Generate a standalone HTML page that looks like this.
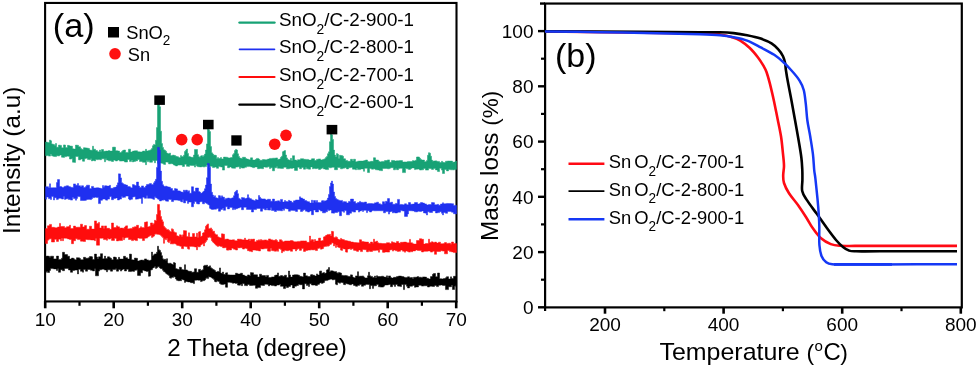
<!DOCTYPE html><html><head><meta charset="utf-8"><style>html,body{margin:0;padding:0;background:#fff;}svg{display:block;will-change:transform;}</style></head><body><svg width="980" height="369" viewBox="0 0 980 369"><rect x="45.1" y="2.95" width="411.4" height="298.5" fill="none" stroke="#000" stroke-width="2.1"/>
<line x1="45.2" y1="301" x2="45.2" y2="308.3" stroke="#000" stroke-width="2.6"/>
<line x1="113.7" y1="301" x2="113.7" y2="308.3" stroke="#000" stroke-width="2.6"/>
<line x1="182.2" y1="301" x2="182.2" y2="308.3" stroke="#000" stroke-width="2.6"/>
<line x1="250.7" y1="301" x2="250.7" y2="308.3" stroke="#000" stroke-width="2.6"/>
<line x1="319.2" y1="301" x2="319.2" y2="308.3" stroke="#000" stroke-width="2.6"/>
<line x1="387.7" y1="301" x2="387.7" y2="308.3" stroke="#000" stroke-width="2.6"/>
<line x1="456.2" y1="301" x2="456.2" y2="308.3" stroke="#000" stroke-width="2.6"/>
<line x1="79.5" y1="301" x2="79.5" y2="305.8" stroke="#000" stroke-width="2.2"/>
<line x1="147.9" y1="301" x2="147.9" y2="305.8" stroke="#000" stroke-width="2.2"/>
<line x1="216.4" y1="301" x2="216.4" y2="305.8" stroke="#000" stroke-width="2.2"/>
<line x1="284.9" y1="301" x2="284.9" y2="305.8" stroke="#000" stroke-width="2.2"/>
<line x1="353.4" y1="301" x2="353.4" y2="305.8" stroke="#000" stroke-width="2.2"/>
<line x1="421.9" y1="301" x2="421.9" y2="305.8" stroke="#000" stroke-width="2.2"/>
<text x="45.2" y="326" font-family="Liberation Sans, sans-serif" font-size="19" text-anchor="middle">10</text>
<text x="113.7" y="326" font-family="Liberation Sans, sans-serif" font-size="19" text-anchor="middle">20</text>
<text x="182.2" y="326" font-family="Liberation Sans, sans-serif" font-size="19" text-anchor="middle">30</text>
<text x="250.7" y="326" font-family="Liberation Sans, sans-serif" font-size="19" text-anchor="middle">40</text>
<text x="319.2" y="326" font-family="Liberation Sans, sans-serif" font-size="19" text-anchor="middle">50</text>
<text x="387.7" y="326" font-family="Liberation Sans, sans-serif" font-size="19" text-anchor="middle">60</text>
<text x="456.2" y="326" font-family="Liberation Sans, sans-serif" font-size="19" text-anchor="middle">70</text>
<text x="257" y="356.2" font-family="Liberation Sans, sans-serif" font-size="24.2" text-anchor="middle">2 Theta (degree)</text>
<text transform="translate(19.5,160.3) rotate(-90)" x="0" y="0" font-family="Liberation Sans, sans-serif" font-size="24.3" text-anchor="middle">Intensity (a.u)</text>
<polygon points="45.5,256.3 46.5,256.3 46.5,256.1 47.5,256.1 47.5,256.1 48.5,256.1 48.5,256.3 49.5,256.3 49.5,257.5 50.5,257.5 50.5,256.2 51.5,256.2 51.5,256.2 52.5,256.2 52.5,256.2 53.5,256.2 53.5,258.9 54.5,258.9 54.5,258.9 55.5,258.9 55.5,258.9 56.5,258.9 56.5,256.1 57.5,256.1 57.5,256.1 58.5,256.1 58.5,259.4 59.5,259.4 59.5,259.4 60.5,259.4 60.5,259.4 61.5,259.4 61.5,258.2 62.5,258.2 62.5,252.3 63.5,252.3 63.5,252.3 64.5,252.3 64.5,254.6 65.5,254.6 65.5,254.6 66.5,254.6 66.5,254.6 67.5,254.6 67.5,256.2 68.5,256.2 68.5,256.2 69.5,256.2 69.5,259.0 70.5,259.0 70.5,259.1 71.5,259.1 71.5,258.1 72.5,258.1 72.5,258.1 73.5,258.1 73.5,258.8 74.5,258.8 74.5,259.7 75.5,259.7 75.5,259.7 76.5,259.7 76.5,257.7 77.5,257.7 77.5,257.8 78.5,257.8 78.5,257.8 79.5,257.8 79.5,258.5 80.5,258.5 80.5,259.7 81.5,259.7 81.5,259.7 82.5,259.7 82.5,259.7 83.5,259.7 83.5,257.3 84.5,257.3 84.5,257.3 85.5,257.3 85.5,258.2 86.5,258.2 86.5,258.2 87.5,258.2 87.5,258.2 88.5,258.2 88.5,257.7 89.5,257.7 89.5,256.5 90.5,256.5 90.5,256.5 91.5,256.5 91.5,256.8 92.5,256.8 92.5,259.5 93.5,259.5 93.5,259.5 94.5,259.5 94.5,254.1 95.5,254.1 95.5,254.1 96.5,254.1 96.5,257.0 97.5,257.0 97.5,258.7 98.5,258.7 98.5,256.8 99.5,256.8 99.5,256.8 100.5,256.8 100.5,253.7 101.5,253.7 101.5,253.7 102.5,253.7 102.5,258.8 103.5,258.8 103.5,258.8 104.5,258.8 104.5,256.1 105.5,256.1 105.5,258.5 106.5,258.5 106.5,258.5 107.5,258.5 107.5,256.8 108.5,256.8 108.5,256.8 109.5,256.8 109.5,257.7 110.5,257.7 110.5,258.3 111.5,258.3 111.5,259.8 112.5,259.8 112.5,259.8 113.5,259.8 113.5,257.0 114.5,257.0 114.5,257.0 115.5,257.0 115.5,257.6 116.5,257.6 116.5,259.5 117.5,259.5 117.5,259.5 118.5,259.5 118.5,257.3 119.5,257.3 119.5,259.0 120.5,259.0 120.5,259.1 121.5,259.1 121.5,259.1 122.5,259.1 122.5,259.1 123.5,259.1 123.5,256.3 124.5,256.3 124.5,256.3 125.5,256.3 125.5,257.7 126.5,257.7 126.5,257.7 127.5,257.7 127.5,259.0 128.5,259.0 128.5,259.0 129.5,259.0 129.5,254.0 130.5,254.0 130.5,254.2 131.5,254.2 131.5,259.7 132.5,259.7 132.5,259.9 133.5,259.9 133.5,260.0 134.5,260.0 134.5,258.0 135.5,258.0 135.5,258.2 136.5,258.2 136.5,258.3 137.5,258.3 137.5,260.9 138.5,260.9 138.5,261.1 139.5,261.1 139.5,260.5 140.5,260.5 140.5,260.1 141.5,260.1 141.5,260.1 142.5,260.1 142.5,260.2 143.5,260.2 143.5,260.3 144.5,260.3 144.5,258.9 145.5,258.9 145.5,258.9 146.5,258.9 146.5,260.1 147.5,260.1 147.5,259.9 148.5,259.9 148.5,260.7 149.5,260.7 149.5,260.4 150.5,260.4 150.5,260.0 151.5,260.0 151.5,252.1 152.5,252.1 152.5,256.0 153.5,256.0 153.5,254.8 154.5,254.8 154.5,253.9 155.5,253.9 155.5,253.9 156.5,253.9 156.5,252.2 157.5,252.2 157.5,246.2 158.5,246.2 158.5,249.7 159.5,249.7 159.5,250.4 160.5,250.4 160.5,252.6 161.5,252.6 161.5,255.7 162.5,255.7 162.5,258.8 163.5,258.8 163.5,260.1 164.5,260.1 164.5,259.1 165.5,259.1 165.5,260.2 166.5,260.2 166.5,258.7 167.5,258.7 167.5,263.1 168.5,263.1 168.5,263.9 169.5,263.9 169.5,263.0 170.5,263.0 170.5,263.7 171.5,263.7 171.5,264.1 172.5,264.1 172.5,264.7 173.5,264.7 173.5,262.5 174.5,262.5 174.5,263.0 175.5,263.0 175.5,268.6 176.5,268.6 176.5,268.9 177.5,268.9 177.5,269.2 178.5,269.2 178.5,269.5 179.5,269.5 179.5,267.1 180.5,267.1 180.5,267.4 181.5,267.4 181.5,269.4 182.5,269.4 182.5,269.7 183.5,269.7 183.5,270.0 184.5,270.0 184.5,264.7 185.5,264.7 185.5,269.9 186.5,269.9 186.5,270.0 187.5,270.0 187.5,270.9 188.5,270.9 188.5,271.2 189.5,271.2 189.5,271.3 190.5,271.3 190.5,271.3 191.5,271.3 191.5,272.2 192.5,272.2 192.5,272.2 193.5,272.2 193.5,271.9 194.5,271.9 194.5,268.7 195.5,268.7 195.5,268.7 196.5,268.7 196.5,272.3 197.5,272.3 197.5,272.2 198.5,272.2 198.5,269.5 199.5,269.5 199.5,269.3 200.5,269.3 200.5,270.7 201.5,270.7 201.5,270.2 202.5,270.2 202.5,269.7 203.5,269.7 203.5,265.9 204.5,265.9 204.5,265.2 205.5,265.2 205.5,265.7 206.5,265.7 206.5,265.0 207.5,265.0 207.5,266.7 208.5,266.7 208.5,266.6 209.5,266.6 209.5,265.8 210.5,265.8 210.5,267.7 211.5,267.7 211.5,268.5 212.5,268.5 212.5,269.3 213.5,269.3 213.5,269.8 214.5,269.8 214.5,270.6 215.5,270.6 215.5,271.9 216.5,271.9 216.5,271.9 217.5,271.9 217.5,271.3 218.5,271.3 218.5,271.7 219.5,271.7 219.5,267.9 220.5,267.9 220.5,273.1 221.5,273.1 221.5,273.4 222.5,273.4 222.5,272.0 223.5,272.0 223.5,274.3 224.5,274.3 224.5,274.5 225.5,274.5 225.5,272.9 226.5,272.9 226.5,272.7 227.5,272.7 227.5,274.8 228.5,274.8 228.5,274.9 229.5,274.9 229.5,275.0 230.5,275.0 230.5,275.0 231.5,275.0 231.5,275.0 232.5,275.0 232.5,275.1 233.5,275.1 233.5,275.0 234.5,275.0 234.5,275.0 235.5,275.0 235.5,273.2 236.5,273.2 236.5,273.3 237.5,273.3 237.5,273.9 238.5,273.9 238.5,273.9 239.5,273.9 239.5,273.9 240.5,273.9 240.5,273.2 241.5,273.2 241.5,273.3 242.5,273.3 242.5,275.0 243.5,275.0 243.5,275.1 244.5,275.1 244.5,275.9 245.5,275.9 245.5,276.1 246.5,276.1 246.5,276.2 247.5,276.2 247.5,274.9 248.5,274.9 248.5,275.0 249.5,275.0 249.5,276.0 250.5,276.0 250.5,272.6 251.5,272.6 251.5,272.7 252.5,272.7 252.5,272.8 253.5,272.8 253.5,274.7 254.5,274.7 254.5,274.8 255.5,274.8 255.5,274.8 256.5,274.8 256.5,274.8 257.5,274.8 257.5,277.0 258.5,277.0 258.5,277.0 259.5,277.0 259.5,274.2 260.5,274.2 260.5,274.2 261.5,274.2 261.5,275.6 262.5,275.6 262.5,275.6 263.5,275.6 263.5,275.6 264.5,275.6 264.5,275.6 265.5,275.6 265.5,276.9 266.5,276.9 266.5,275.4 267.5,275.4 267.5,275.4 268.5,275.4 268.5,277.5 269.5,277.5 269.5,277.5 270.5,277.5 270.5,277.5 271.5,277.5 271.5,276.9 272.5,276.9 272.5,276.9 273.5,276.9 273.5,276.9 274.5,276.9 274.5,275.5 275.5,275.5 275.5,275.1 276.5,275.1 276.5,275.1 277.5,275.1 277.5,272.9 278.5,272.9 278.5,276.2 279.5,276.2 279.5,276.3 280.5,276.3 280.5,275.6 281.5,275.6 281.5,275.6 282.5,275.6 282.5,276.2 283.5,276.2 283.5,276.2 284.5,276.2 284.5,275.2 285.5,275.2 285.5,275.2 286.5,275.2 286.5,277.6 287.5,277.6 287.5,277.6 288.5,277.6 288.5,271.0 289.5,271.0 289.5,274.9 290.5,274.9 290.5,277.1 291.5,277.1 291.5,277.1 292.5,277.1 292.5,275.0 293.5,275.0 293.5,275.0 294.5,275.0 294.5,274.7 295.5,274.7 295.5,274.7 296.5,274.7 296.5,274.7 297.5,274.7 297.5,274.9 298.5,274.9 298.5,275.2 299.5,275.2 299.5,276.3 300.5,276.3 300.5,276.3 301.5,276.3 301.5,276.8 302.5,276.8 302.5,276.7 303.5,276.7 303.5,273.1 304.5,273.1 304.5,273.1 305.5,273.1 305.5,275.8 306.5,275.8 306.5,275.8 307.5,275.8 307.5,276.6 308.5,276.6 308.5,276.5 309.5,276.5 309.5,276.5 310.5,276.5 310.5,274.8 311.5,274.8 311.5,274.6 312.5,274.6 312.5,275.2 313.5,275.2 313.5,275.1 314.5,275.1 314.5,276.0 315.5,276.0 315.5,275.9 316.5,275.9 316.5,273.9 317.5,273.9 317.5,275.1 318.5,275.1 318.5,274.9 319.5,274.9 319.5,271.2 320.5,271.2 320.5,270.9 321.5,270.9 321.5,273.2 322.5,273.2 322.5,272.9 323.5,272.9 323.5,272.5 324.5,272.5 324.5,273.5 325.5,273.5 325.5,273.0 326.5,273.0 326.5,269.9 327.5,269.9 327.5,269.4 328.5,269.4 328.5,267.5 329.5,267.5 329.5,272.0 330.5,272.0 330.5,270.8 331.5,270.8 331.5,270.8 332.5,270.8 332.5,271.0 333.5,271.0 333.5,271.4 334.5,271.4 334.5,271.9 335.5,271.9 335.5,271.5 336.5,271.5 336.5,272.7 337.5,272.7 337.5,273.2 338.5,273.2 338.5,272.4 339.5,272.4 339.5,272.8 340.5,272.8 340.5,273.1 341.5,273.1 341.5,275.2 342.5,275.2 342.5,275.4 343.5,275.4 343.5,275.7 344.5,275.7 344.5,275.4 345.5,275.4 345.5,275.5 346.5,275.5 346.5,275.7 347.5,275.7 347.5,276.2 348.5,276.2 348.5,276.4 349.5,276.4 349.5,276.5 350.5,276.5 350.5,274.8 351.5,274.8 351.5,274.9 352.5,274.9 352.5,277.1 353.5,277.1 353.5,277.7 354.5,277.7 354.5,277.7 355.5,277.7 355.5,275.9 356.5,275.9 356.5,275.9 357.5,275.9 357.5,271.7 358.5,271.7 358.5,276.2 359.5,276.2 359.5,276.2 360.5,276.2 360.5,276.1 361.5,276.1 361.5,276.2 362.5,276.2 362.5,275.9 363.5,275.9 363.5,276.9 364.5,276.9 364.5,277.9 365.5,277.9 365.5,277.9 366.5,277.9 366.5,277.9 367.5,277.9 367.5,275.8 368.5,275.8 368.5,272.2 369.5,272.2 369.5,275.7 370.5,275.7 370.5,276.4 371.5,276.4 371.5,276.4 372.5,276.4 372.5,277.4 373.5,277.4 373.5,277.5 374.5,277.5 374.5,276.0 375.5,276.0 375.5,277.9 376.5,277.9 376.5,275.7 377.5,275.7 377.5,276.5 378.5,276.5 378.5,276.5 379.5,276.5 379.5,276.6 380.5,276.6 380.5,276.6 381.5,276.6 381.5,276.2 382.5,276.2 382.5,276.2 383.5,276.2 383.5,277.0 384.5,277.0 384.5,277.0 385.5,277.0 385.5,277.3 386.5,277.3 386.5,275.8 387.5,275.8 387.5,277.8 388.5,277.8 388.5,275.9 389.5,275.9 389.5,275.9 390.5,275.9 390.5,277.6 391.5,277.6 391.5,278.1 392.5,278.1 392.5,278.1 393.5,278.1 393.5,277.3 394.5,277.3 394.5,277.3 395.5,277.3 395.5,277.3 396.5,277.3 396.5,276.6 397.5,276.6 397.5,276.6 398.5,276.6 398.5,276.0 399.5,276.0 399.5,276.1 400.5,276.1 400.5,276.1 401.5,276.1 401.5,276.5 402.5,276.5 402.5,276.5 403.5,276.5 403.5,277.0 404.5,277.0 404.5,277.4 405.5,277.4 405.5,277.4 406.5,277.4 406.5,277.4 407.5,277.4 407.5,276.8 408.5,276.8 408.5,276.8 409.5,276.8 409.5,278.0 410.5,278.0 410.5,277.5 411.5,277.5 411.5,277.5 412.5,277.5 412.5,278.7 413.5,278.7 413.5,277.2 414.5,277.2 414.5,277.2 415.5,277.2 415.5,277.2 416.5,277.2 416.5,277.0 417.5,277.0 417.5,276.5 418.5,276.5 418.5,277.2 419.5,277.2 419.5,277.2 420.5,277.2 420.5,277.2 421.5,277.2 421.5,278.1 422.5,278.1 422.5,276.9 423.5,276.9 423.5,276.9 424.5,276.9 424.5,277.1 425.5,277.1 425.5,277.1 426.5,277.1 426.5,278.3 427.5,278.3 427.5,278.3 428.5,278.3 428.5,278.9 429.5,278.9 429.5,278.9 430.5,278.9 430.5,276.6 431.5,276.6 431.5,276.6 432.5,276.6 432.5,274.3 433.5,274.3 433.5,273.5 434.5,273.5 434.5,273.5 435.5,273.5 435.5,276.7 436.5,276.7 436.5,276.7 437.5,276.7 437.5,273.0 438.5,273.0 438.5,273.0 439.5,273.0 439.5,278.7 440.5,278.7 440.5,278.7 441.5,278.7 441.5,278.9 442.5,278.9 442.5,279.0 443.5,279.0 443.5,278.5 444.5,278.5 444.5,278.5 445.5,278.5 445.5,277.7 446.5,277.7 446.5,276.7 447.5,276.7 447.5,276.7 448.5,276.7 448.5,279.0 449.5,279.0 449.5,279.0 450.5,279.0 450.5,276.8 451.5,276.8 451.5,278.6 452.5,278.6 452.5,278.6 453.5,278.6 453.5,276.3 454.5,276.3 454.5,276.3 455.5,276.3 455.5,276.3 456.5,276.3 456.5,285.2 455.5,285.2 455.5,286.3 454.5,286.3 454.5,289.5 453.5,289.5 453.5,289.5 452.5,289.5 452.5,284.9 451.5,284.9 451.5,286.7 450.5,286.7 450.5,286.7 449.5,286.7 449.5,286.7 448.5,286.7 448.5,289.6 447.5,289.6 447.5,289.6 446.5,289.6 446.5,289.6 445.5,289.6 445.5,285.4 444.5,285.4 444.5,285.4 443.5,285.4 443.5,285.4 442.5,285.4 442.5,284.9 441.5,284.9 441.5,284.9 440.5,284.9 440.5,285.2 439.5,285.2 439.5,285.2 438.5,285.2 438.5,286.6 437.5,286.6 437.5,286.6 436.5,286.6 436.5,285.4 435.5,285.4 435.5,285.4 434.5,285.4 434.5,286.5 433.5,286.5 433.5,286.5 432.5,286.5 432.5,286.2 431.5,286.2 431.5,286.2 430.5,286.2 430.5,286.2 429.5,286.2 429.5,287.0 428.5,287.0 428.5,287.0 427.5,287.0 427.5,285.8 426.5,285.8 426.5,285.7 425.5,285.7 425.5,285.8 424.5,285.8 424.5,285.8 423.5,285.8 423.5,286.1 422.5,286.1 422.5,286.1 421.5,286.1 421.5,285.3 420.5,285.3 420.5,285.3 419.5,285.3 419.5,285.3 418.5,285.3 418.5,286.9 417.5,286.9 417.5,286.9 416.5,286.9 416.5,286.9 415.5,286.9 415.5,287.3 414.5,287.3 414.5,285.4 413.5,285.4 413.5,285.4 412.5,285.4 412.5,286.2 411.5,286.2 411.5,286.2 410.5,286.2 410.5,286.2 409.5,286.2 409.5,287.9 408.5,287.9 408.5,287.9 407.5,287.9 407.5,286.3 406.5,286.3 406.5,284.6 405.5,284.6 405.5,284.6 404.5,284.6 404.5,289.6 403.5,289.6 403.5,284.5 402.5,284.5 402.5,284.5 401.5,284.5 401.5,286.6 400.5,286.6 400.5,286.2 399.5,286.2 399.5,286.2 398.5,286.2 398.5,286.1 397.5,286.1 397.5,284.5 396.5,284.5 396.5,284.5 395.5,284.5 395.5,286.4 394.5,286.4 394.5,284.8 393.5,284.8 393.5,284.8 392.5,284.8 392.5,286.7 391.5,286.7 391.5,286.7 390.5,286.7 390.5,284.5 389.5,284.5 389.5,284.5 388.5,284.5 388.5,284.9 387.5,284.9 387.5,284.9 386.5,284.9 386.5,285.0 385.5,285.0 385.5,285.0 384.5,285.0 384.5,286.2 383.5,286.2 383.5,287.1 382.5,287.1 382.5,287.1 381.5,287.1 381.5,287.1 380.5,287.1 380.5,286.8 379.5,286.8 379.5,286.8 378.5,286.8 378.5,284.6 377.5,284.6 377.5,284.6 376.5,284.6 376.5,285.7 375.5,285.7 375.5,285.8 374.5,285.8 374.5,285.8 373.5,285.8 373.5,288.4 372.5,288.4 372.5,285.5 371.5,285.5 371.5,285.5 370.5,285.5 370.5,288.8 369.5,288.8 369.5,284.6 368.5,284.6 368.5,284.5 367.5,284.5 367.5,284.3 366.5,284.3 366.5,284.4 365.5,284.4 365.5,285.3 364.5,285.3 364.5,285.3 363.5,285.3 363.5,286.3 362.5,286.3 362.5,286.3 361.5,286.3 361.5,284.6 360.5,284.6 360.5,284.6 359.5,284.6 359.5,285.4 358.5,285.4 358.5,285.3 357.5,285.3 357.5,286.3 356.5,286.3 356.5,286.2 355.5,286.2 355.5,285.5 354.5,285.5 354.5,285.4 353.5,285.4 353.5,284.0 352.5,284.0 352.5,283.9 351.5,283.9 351.5,284.8 350.5,284.8 350.5,284.7 349.5,284.7 349.5,284.2 348.5,284.2 348.5,284.1 347.5,284.1 347.5,283.7 346.5,283.7 346.5,283.6 345.5,283.6 345.5,284.7 344.5,284.7 344.5,284.5 343.5,284.5 343.5,282.8 342.5,282.8 342.5,282.5 341.5,282.5 341.5,282.2 340.5,282.2 340.5,283.2 339.5,283.2 339.5,282.8 338.5,282.8 338.5,282.3 337.5,282.3 337.5,284.8 336.5,284.8 336.5,284.2 335.5,284.2 335.5,279.7 334.5,279.7 334.5,279.2 333.5,279.2 333.5,280.0 332.5,280.0 332.5,279.2 331.5,279.2 331.5,279.1 330.5,279.1 330.5,279.3 329.5,279.3 329.5,279.7 328.5,279.7 328.5,280.1 327.5,280.1 327.5,280.6 326.5,280.6 326.5,280.2 325.5,280.2 325.5,280.7 324.5,280.7 324.5,282.5 323.5,282.5 323.5,283.1 322.5,283.1 322.5,283.4 321.5,283.4 321.5,282.7 320.5,282.7 320.5,282.9 319.5,282.9 319.5,284.3 318.5,284.3 318.5,284.5 317.5,284.5 317.5,285.4 316.5,285.4 316.5,285.6 315.5,285.6 315.5,284.9 314.5,284.9 314.5,285.0 313.5,285.0 313.5,285.1 312.5,285.1 312.5,285.0 311.5,285.0 311.5,283.7 310.5,283.7 310.5,283.8 309.5,283.8 309.5,286.5 308.5,286.5 308.5,284.8 307.5,284.8 307.5,285.5 306.5,285.5 306.5,283.7 305.5,283.7 305.5,283.8 304.5,283.8 304.5,288.9 303.5,288.9 303.5,288.9 302.5,288.9 302.5,284.7 301.5,284.7 301.5,284.7 300.5,284.7 300.5,284.7 299.5,284.7 299.5,284.1 298.5,284.1 298.5,285.4 297.5,285.4 297.5,285.5 296.5,285.5 296.5,286.2 295.5,286.2 295.5,286.2 294.5,286.2 294.5,287.9 293.5,287.9 293.5,287.9 292.5,287.9 292.5,285.0 291.5,285.0 291.5,285.0 290.5,285.0 290.5,286.4 289.5,286.4 289.5,286.4 288.5,286.4 288.5,287.4 287.5,287.4 287.5,287.5 286.5,287.5 286.5,286.3 285.5,286.3 285.5,288.6 284.5,288.6 284.5,288.6 283.5,288.6 283.5,286.3 282.5,286.3 282.5,286.3 281.5,286.3 281.5,286.3 280.5,286.3 280.5,284.1 279.5,284.1 279.5,285.0 278.5,285.0 278.5,285.0 277.5,285.0 277.5,285.0 276.5,285.0 276.5,286.0 275.5,286.0 275.5,286.0 274.5,286.0 274.5,285.6 273.5,285.6 273.5,285.6 272.5,285.6 272.5,285.6 271.5,285.6 271.5,284.9 270.5,284.9 270.5,284.9 269.5,284.9 269.5,286.0 268.5,286.0 268.5,284.4 267.5,284.4 267.5,284.2 266.5,284.2 266.5,284.2 265.5,284.2 265.5,284.2 264.5,284.2 264.5,285.5 263.5,285.5 263.5,285.5 262.5,285.5 262.5,285.3 261.5,285.3 261.5,285.3 260.5,285.3 260.5,287.6 259.5,287.6 259.5,287.6 258.5,287.6 258.5,287.6 257.5,287.6 257.5,288.3 256.5,288.3 256.5,288.3 255.5,288.3 255.5,285.3 254.5,285.3 254.5,285.3 253.5,285.3 253.5,285.2 252.5,285.2 252.5,285.5 251.5,285.5 251.5,285.5 250.5,285.5 250.5,285.4 249.5,285.4 249.5,284.5 248.5,284.5 248.5,284.5 247.5,284.5 247.5,285.7 246.5,285.7 246.5,285.6 245.5,285.6 245.5,285.6 244.5,285.6 244.5,283.7 243.5,283.7 243.5,283.6 242.5,283.6 242.5,285.7 241.5,285.7 241.5,284.0 240.5,284.0 240.5,285.2 239.5,285.2 239.5,285.2 238.5,285.2 238.5,285.1 237.5,285.1 237.5,283.0 236.5,283.0 236.5,283.5 235.5,283.5 235.5,283.0 234.5,283.0 234.5,282.9 233.5,282.9 233.5,283.3 232.5,283.3 232.5,282.7 231.5,282.7 231.5,282.6 230.5,282.6 230.5,282.3 229.5,282.3 229.5,282.3 228.5,282.3 228.5,282.2 227.5,282.2 227.5,287.3 226.5,287.3 226.5,287.2 225.5,287.2 225.5,283.9 224.5,283.9 224.5,284.2 223.5,284.2 223.5,284.6 222.5,284.6 222.5,284.4 221.5,284.4 221.5,284.2 220.5,284.2 220.5,283.5 219.5,283.5 219.5,281.6 218.5,281.6 218.5,281.3 217.5,281.3 217.5,280.8 216.5,280.8 216.5,282.0 215.5,282.0 215.5,281.4 214.5,281.4 214.5,279.4 213.5,279.4 213.5,278.6 212.5,278.6 212.5,277.9 211.5,277.9 211.5,277.1 210.5,277.1 210.5,277.0 209.5,277.0 209.5,276.8 208.5,276.8 208.5,278.6 207.5,278.6 207.5,277.7 206.5,277.7 206.5,278.4 205.5,278.4 205.5,279.9 204.5,279.9 204.5,280.7 203.5,280.7 203.5,280.6 202.5,280.6 202.5,281.2 201.5,281.2 201.5,281.6 200.5,281.6 200.5,280.1 199.5,280.1 199.5,280.3 198.5,280.3 198.5,280.0 197.5,280.0 197.5,280.1 196.5,280.1 196.5,280.2 195.5,280.2 195.5,280.2 194.5,280.2 194.5,283.6 193.5,283.6 193.5,282.7 192.5,282.7 192.5,282.7 191.5,282.7 191.5,282.7 190.5,282.7 190.5,282.0 189.5,282.0 189.5,281.9 188.5,281.9 188.5,281.9 187.5,281.9 187.5,281.5 186.5,281.5 186.5,281.4 185.5,281.4 185.5,282.4 184.5,282.4 184.5,280.0 183.5,280.0 183.5,279.7 182.5,279.7 182.5,278.9 181.5,278.9 181.5,280.8 180.5,280.8 180.5,280.5 179.5,280.5 179.5,280.9 178.5,280.9 178.5,280.6 177.5,280.6 177.5,280.3 176.5,280.3 176.5,279.0 175.5,279.0 175.5,277.1 174.5,277.1 174.5,276.6 173.5,276.6 173.5,277.4 172.5,277.4 172.5,276.9 171.5,276.9 171.5,278.2 170.5,278.2 170.5,277.7 169.5,277.7 169.5,275.4 168.5,275.4 168.5,274.7 167.5,274.7 167.5,274.1 166.5,274.1 166.5,273.2 165.5,273.2 165.5,272.1 164.5,272.1 164.5,271.6 163.5,271.6 163.5,270.3 162.5,270.3 162.5,268.7 161.5,268.7 161.5,268.7 160.5,268.7 160.5,267.9 159.5,267.9 159.5,266.8 158.5,266.8 158.5,266.8 157.5,266.8 157.5,267.7 156.5,267.7 156.5,268.4 155.5,268.4 155.5,266.6 154.5,266.6 154.5,267.4 153.5,267.4 153.5,267.9 152.5,267.9 152.5,269.6 151.5,269.6 151.5,270.1 150.5,270.1 150.5,276.0 149.5,276.0 149.5,276.3 148.5,276.3 148.5,271.3 147.5,271.3 147.5,271.5 146.5,271.5 146.5,270.9 145.5,270.9 145.5,271.0 144.5,271.0 144.5,270.3 143.5,270.3 143.5,270.3 142.5,270.3 142.5,272.8 141.5,272.8 141.5,272.7 140.5,272.7 140.5,275.6 139.5,275.6 139.5,275.5 138.5,275.5 138.5,275.4 137.5,275.4 137.5,269.7 136.5,269.7 136.5,270.3 135.5,270.3 135.5,270.2 134.5,270.2 134.5,271.4 133.5,271.4 133.5,271.3 132.5,271.3 132.5,271.1 131.5,271.1 131.5,271.6 130.5,271.6 130.5,271.5 129.5,271.5 129.5,271.5 128.5,271.5 128.5,269.2 127.5,269.2 127.5,269.3 126.5,269.3 126.5,271.0 125.5,271.0 125.5,271.0 124.5,271.0 124.5,269.1 123.5,269.1 123.5,269.2 122.5,269.2 122.5,269.9 121.5,269.9 121.5,271.1 120.5,271.1 120.5,269.5 119.5,269.5 119.5,269.6 118.5,269.6 118.5,271.2 117.5,271.2 117.5,271.2 116.5,271.2 116.5,268.7 115.5,268.7 115.5,269.6 114.5,269.6 114.5,269.6 113.5,269.6 113.5,269.6 112.5,269.6 112.5,271.2 111.5,271.2 111.5,271.2 110.5,271.2 110.5,269.8 109.5,269.8 109.5,269.8 108.5,269.8 108.5,269.8 107.5,269.8 107.5,271.8 106.5,271.8 106.5,270.0 105.5,270.0 105.5,270.0 104.5,270.0 104.5,269.2 103.5,269.2 103.5,269.2 102.5,269.2 102.5,269.2 101.5,269.2 101.5,269.8 100.5,269.8 100.5,269.8 99.5,269.8 99.5,271.1 98.5,271.1 98.5,275.8 97.5,275.8 97.5,275.8 96.5,275.8 96.5,275.8 95.5,275.8 95.5,268.7 94.5,268.7 94.5,270.9 93.5,270.9 93.5,270.9 92.5,270.9 92.5,270.3 91.5,270.3 91.5,270.3 90.5,270.3 90.5,269.5 89.5,269.5 89.5,269.5 88.5,269.5 88.5,269.5 87.5,269.5 87.5,271.2 86.5,271.2 86.5,271.2 85.5,271.2 85.5,269.6 84.5,269.6 84.5,269.6 83.5,269.6 83.5,272.2 82.5,272.2 82.5,271.3 81.5,271.3 81.5,271.3 80.5,271.3 80.5,269.3 79.5,269.3 79.5,269.3 78.5,269.3 78.5,273.9 77.5,273.9 77.5,270.1 76.5,270.1 76.5,270.1 75.5,270.1 75.5,270.1 74.5,270.1 74.5,270.5 73.5,270.5 73.5,270.5 72.5,270.5 72.5,272.3 71.5,272.3 71.5,272.3 70.5,272.3 70.5,270.0 69.5,270.0 69.5,270.0 68.5,270.0 68.5,268.4 67.5,268.4 67.5,268.4 66.5,268.4 66.5,268.4 65.5,268.4 65.5,268.5 64.5,268.5 64.5,270.7 63.5,270.7 63.5,270.7 62.5,270.7 62.5,269.7 61.5,269.7 61.5,269.7 60.5,269.7 60.5,272.3 59.5,272.3 59.5,272.3 58.5,272.3 58.5,268.8 57.5,268.8 57.5,270.5 56.5,270.5 56.5,268.9 55.5,268.9 55.5,268.9 54.5,268.9 54.5,268.9 53.5,268.9 53.5,268.6 52.5,268.6 52.5,268.6 51.5,268.6 51.5,268.6 50.5,268.6 50.5,270.4 49.5,270.4 49.5,272.5 48.5,272.5 48.5,272.5 47.5,272.5 47.5,271.2 46.5,271.2 46.5,272.3 45.5,272.3" fill="#000" stroke="#000" stroke-width="0.5"/>
<polygon points="45.5,228.6 46.5,228.6 46.5,228.6 47.5,228.6 47.5,225.8 48.5,225.8 48.5,225.8 49.5,225.8 49.5,224.4 50.5,224.4 50.5,224.4 51.5,224.4 51.5,227.3 52.5,227.3 52.5,227.3 53.5,227.3 53.5,227.3 54.5,227.3 54.5,227.7 55.5,227.7 55.5,227.7 56.5,227.7 56.5,228.0 57.5,228.0 57.5,227.0 58.5,227.0 58.5,227.0 59.5,227.0 59.5,223.4 60.5,223.4 60.5,226.5 61.5,226.5 61.5,226.5 62.5,226.5 62.5,226.4 63.5,226.4 63.5,226.4 64.5,226.4 64.5,227.7 65.5,227.7 65.5,227.7 66.5,227.7 66.5,226.7 67.5,226.7 67.5,226.7 68.5,226.7 68.5,226.6 69.5,226.6 69.5,225.2 70.5,225.2 70.5,228.6 71.5,228.6 71.5,228.6 72.5,228.6 72.5,228.6 73.5,228.6 73.5,226.1 74.5,226.1 74.5,226.1 75.5,226.1 75.5,227.3 76.5,227.3 76.5,227.3 77.5,227.3 77.5,227.2 78.5,227.2 78.5,227.2 79.5,227.2 79.5,227.2 80.5,227.2 80.5,224.2 81.5,224.2 81.5,224.2 82.5,224.2 82.5,226.9 83.5,226.9 83.5,226.9 84.5,226.9 84.5,225.6 85.5,225.6 85.5,225.6 86.5,225.6 86.5,229.2 87.5,229.2 87.5,229.2 88.5,229.2 88.5,229.2 89.5,229.2 89.5,226.2 90.5,226.2 90.5,226.2 91.5,226.2 91.5,229.1 92.5,229.1 92.5,229.1 93.5,229.1 93.5,229.1 94.5,229.1 94.5,220.9 95.5,220.9 95.5,220.9 96.5,220.9 96.5,223.4 97.5,223.4 97.5,223.4 98.5,223.4 98.5,222.4 99.5,222.4 99.5,228.0 100.5,228.0 100.5,228.0 101.5,228.0 101.5,225.9 102.5,225.9 102.5,225.9 103.5,225.9 103.5,228.5 104.5,228.5 104.5,225.9 105.5,225.9 105.5,225.9 106.5,225.9 106.5,228.3 107.5,228.3 107.5,228.3 108.5,228.3 108.5,228.3 109.5,228.3 109.5,229.3 110.5,229.3 110.5,229.3 111.5,229.3 111.5,223.0 112.5,223.0 112.5,223.0 113.5,223.0 113.5,227.5 114.5,227.5 114.5,227.5 115.5,227.5 115.5,227.5 116.5,227.5 116.5,225.8 117.5,225.8 117.5,226.8 118.5,226.8 118.5,226.8 119.5,226.8 119.5,228.2 120.5,228.2 120.5,228.1 121.5,228.1 121.5,228.1 122.5,228.1 122.5,228.2 123.5,228.2 123.5,228.2 124.5,228.2 124.5,227.0 125.5,227.0 125.5,225.9 126.5,225.9 126.5,225.8 127.5,225.8 127.5,228.9 128.5,228.9 128.5,228.8 129.5,228.8 129.5,228.7 130.5,228.7 130.5,228.4 131.5,228.4 131.5,228.4 132.5,228.4 132.5,227.2 133.5,227.2 133.5,227.2 134.5,227.2 134.5,226.7 135.5,226.7 135.5,226.7 136.5,226.7 136.5,225.3 137.5,225.3 137.5,225.3 138.5,225.3 138.5,228.2 139.5,228.2 139.5,228.1 140.5,228.1 140.5,226.7 141.5,226.7 141.5,227.8 142.5,227.8 142.5,227.6 143.5,227.6 143.5,227.7 144.5,227.7 144.5,222.3 145.5,222.3 145.5,222.1 146.5,222.1 146.5,221.8 147.5,221.8 147.5,227.1 148.5,227.1 148.5,226.7 149.5,226.7 149.5,226.2 150.5,226.2 150.5,223.0 151.5,223.0 151.5,222.9 152.5,222.9 152.5,224.4 153.5,224.4 153.5,223.6 154.5,223.6 154.5,220.3 155.5,220.3 155.5,221.0 156.5,221.0 156.5,214.5 157.5,214.5 157.5,204.4 158.5,204.4 158.5,204.5 159.5,204.5 159.5,210.6 160.5,210.6 160.5,216.5 161.5,216.5 161.5,219.8 162.5,219.8 162.5,221.8 163.5,221.8 163.5,226.3 164.5,226.3 164.5,227.6 165.5,227.6 165.5,228.6 166.5,228.6 166.5,229.7 167.5,229.7 167.5,229.4 168.5,229.4 168.5,230.3 169.5,230.3 169.5,231.3 170.5,231.3 170.5,232.1 171.5,232.1 171.5,228.8 172.5,228.8 172.5,229.4 173.5,229.4 173.5,231.8 174.5,231.8 174.5,232.4 175.5,232.4 175.5,232.7 176.5,232.7 176.5,235.8 177.5,235.8 177.5,236.1 178.5,236.1 178.5,236.4 179.5,236.4 179.5,234.7 180.5,234.7 180.5,234.9 181.5,234.9 181.5,236.5 182.5,236.5 182.5,234.8 183.5,234.8 183.5,230.6 184.5,230.6 184.5,230.7 185.5,230.7 185.5,230.8 186.5,230.8 186.5,236.6 187.5,236.6 187.5,236.7 188.5,236.7 188.5,232.8 189.5,232.8 189.5,236.9 190.5,236.9 190.5,236.9 191.5,236.9 191.5,236.9 192.5,236.9 192.5,233.5 193.5,233.5 193.5,233.5 194.5,233.5 194.5,237.0 195.5,237.0 195.5,236.9 196.5,236.9 196.5,233.2 197.5,233.2 197.5,237.6 198.5,237.6 198.5,231.9 199.5,231.9 199.5,231.5 200.5,231.5 200.5,236.7 201.5,236.7 201.5,236.0 202.5,236.0 202.5,233.1 203.5,233.1 203.5,232.5 204.5,232.5 204.5,229.8 205.5,229.8 205.5,226.2 206.5,226.2 206.5,224.9 207.5,224.9 207.5,223.9 208.5,223.9 208.5,228.4 209.5,228.4 209.5,228.9 210.5,228.9 210.5,227.9 211.5,227.9 211.5,229.4 212.5,229.4 212.5,231.2 213.5,231.2 213.5,231.2 214.5,231.2 214.5,233.8 215.5,233.8 215.5,234.8 216.5,234.8 216.5,234.7 217.5,234.7 217.5,236.8 218.5,236.8 218.5,237.3 219.5,237.3 219.5,237.7 220.5,237.7 220.5,238.0 221.5,238.0 221.5,233.8 222.5,233.8 222.5,234.0 223.5,234.0 223.5,234.2 224.5,234.2 224.5,239.2 225.5,239.2 225.5,239.3 226.5,239.3 226.5,239.0 227.5,239.0 227.5,239.1 228.5,239.1 228.5,239.8 229.5,239.8 229.5,239.9 230.5,239.9 230.5,240.0 231.5,240.0 231.5,240.1 232.5,240.1 232.5,239.8 233.5,239.8 233.5,239.8 234.5,239.8 234.5,240.7 235.5,240.7 235.5,240.8 236.5,240.8 236.5,240.8 237.5,240.8 237.5,239.1 238.5,239.1 238.5,239.2 239.5,239.2 239.5,239.2 240.5,239.2 240.5,239.3 241.5,239.3 241.5,239.8 242.5,239.8 242.5,239.8 243.5,239.8 243.5,239.9 244.5,239.9 244.5,238.2 245.5,238.2 245.5,240.0 246.5,240.0 246.5,240.0 247.5,240.0 247.5,240.1 248.5,240.1 248.5,239.0 249.5,239.0 249.5,240.7 250.5,240.7 250.5,239.2 251.5,239.2 251.5,239.3 252.5,239.3 252.5,239.3 253.5,239.3 253.5,239.0 254.5,239.0 254.5,241.8 255.5,241.8 255.5,241.8 256.5,241.8 256.5,240.4 257.5,240.4 257.5,240.4 258.5,240.4 258.5,239.8 259.5,239.8 259.5,240.4 260.5,240.4 260.5,239.6 261.5,239.6 261.5,240.2 262.5,240.2 262.5,240.2 263.5,240.2 263.5,240.2 264.5,240.2 264.5,239.9 265.5,239.9 265.5,239.9 266.5,239.9 266.5,240.4 267.5,240.4 267.5,240.4 268.5,240.4 268.5,238.9 269.5,238.9 269.5,238.9 270.5,238.9 270.5,239.8 271.5,239.8 271.5,239.8 272.5,239.8 272.5,240.3 273.5,240.3 273.5,240.3 274.5,240.3 274.5,240.3 275.5,240.3 275.5,239.6 276.5,239.6 276.5,240.5 277.5,240.5 277.5,241.9 278.5,241.9 278.5,241.9 279.5,241.9 279.5,239.7 280.5,239.7 280.5,239.7 281.5,239.7 281.5,240.7 282.5,240.7 282.5,241.7 283.5,241.7 283.5,241.7 284.5,241.7 284.5,241.0 285.5,241.0 285.5,241.0 286.5,241.0 286.5,241.0 287.5,241.0 287.5,241.0 288.5,241.0 288.5,241.0 289.5,241.0 289.5,241.0 290.5,241.0 290.5,240.5 291.5,240.5 291.5,240.5 292.5,240.5 292.5,240.9 293.5,240.9 293.5,241.7 294.5,241.7 294.5,241.7 295.5,241.7 295.5,242.0 296.5,242.0 296.5,241.7 297.5,241.7 297.5,241.4 298.5,241.4 298.5,241.4 299.5,241.4 299.5,241.4 300.5,241.4 300.5,240.9 301.5,240.9 301.5,240.9 302.5,240.9 302.5,240.9 303.5,240.9 303.5,241.0 304.5,241.0 304.5,241.0 305.5,241.0 305.5,240.9 306.5,240.9 306.5,242.3 307.5,242.3 307.5,242.3 308.5,242.3 308.5,242.3 309.5,242.3 309.5,236.1 310.5,236.1 310.5,240.5 311.5,240.5 311.5,239.6 312.5,239.6 312.5,239.7 313.5,239.7 313.5,241.7 314.5,241.7 314.5,239.5 315.5,239.5 315.5,241.1 316.5,241.1 316.5,241.0 317.5,241.0 317.5,240.9 318.5,240.9 318.5,238.2 319.5,238.2 319.5,238.0 320.5,238.0 320.5,241.1 321.5,241.1 321.5,240.8 322.5,240.8 322.5,240.5 323.5,240.5 323.5,236.9 324.5,236.9 324.5,236.5 325.5,236.5 325.5,235.5 326.5,235.5 326.5,235.0 327.5,235.0 327.5,234.4 328.5,234.4 328.5,234.8 329.5,234.8 329.5,234.3 330.5,234.3 330.5,235.9 331.5,235.9 331.5,231.3 332.5,231.3 332.5,231.6 333.5,231.6 333.5,237.3 334.5,237.3 334.5,237.9 335.5,237.9 335.5,236.8 336.5,236.8 336.5,237.4 337.5,237.4 337.5,239.1 338.5,239.1 338.5,239.5 339.5,239.5 339.5,239.9 340.5,239.9 340.5,238.4 341.5,238.4 341.5,239.3 342.5,239.3 342.5,239.5 343.5,239.5 343.5,239.7 344.5,239.7 344.5,240.5 345.5,240.5 345.5,240.6 346.5,240.6 346.5,240.8 347.5,240.8 347.5,241.1 348.5,241.1 348.5,241.2 349.5,241.2 349.5,241.3 350.5,241.3 350.5,242.0 351.5,242.0 351.5,242.0 352.5,242.0 352.5,242.1 353.5,242.1 353.5,242.5 354.5,242.5 354.5,242.6 355.5,242.6 355.5,242.6 356.5,242.6 356.5,242.7 357.5,242.7 357.5,242.8 358.5,242.8 358.5,242.8 359.5,242.8 359.5,239.7 360.5,239.7 360.5,239.8 361.5,239.8 361.5,241.5 362.5,241.5 362.5,241.5 363.5,241.5 363.5,241.8 364.5,241.8 364.5,241.9 365.5,241.9 365.5,242.1 366.5,242.1 366.5,242.1 367.5,242.1 367.5,242.1 368.5,242.1 368.5,243.4 369.5,243.4 369.5,243.4 370.5,243.4 370.5,242.0 371.5,242.0 371.5,242.1 372.5,242.1 372.5,243.3 373.5,243.3 373.5,239.2 374.5,239.2 374.5,241.7 375.5,241.7 375.5,241.7 376.5,241.7 376.5,241.0 377.5,241.0 377.5,242.7 378.5,242.7 378.5,243.3 379.5,243.3 379.5,243.3 380.5,243.3 380.5,243.3 381.5,243.3 381.5,243.5 382.5,243.5 382.5,243.5 383.5,243.5 383.5,243.5 384.5,243.5 384.5,243.5 385.5,243.5 385.5,243.5 386.5,243.5 386.5,242.7 387.5,242.7 387.5,242.7 388.5,242.7 388.5,242.7 389.5,242.7 389.5,243.5 390.5,243.5 390.5,243.6 391.5,243.6 391.5,241.7 392.5,241.7 392.5,242.3 393.5,242.3 393.5,242.4 394.5,242.4 394.5,242.9 395.5,242.9 395.5,243.0 396.5,243.0 396.5,241.5 397.5,241.5 397.5,241.5 398.5,241.5 398.5,243.1 399.5,243.1 399.5,243.2 400.5,243.2 400.5,242.3 401.5,242.3 401.5,242.3 402.5,242.3 402.5,242.3 403.5,242.3 403.5,242.1 404.5,242.1 404.5,242.1 405.5,242.1 405.5,242.1 406.5,242.1 406.5,242.8 407.5,242.8 407.5,242.8 408.5,242.8 408.5,242.8 409.5,242.8 409.5,239.4 410.5,239.4 410.5,242.8 411.5,242.8 411.5,242.8 412.5,242.8 412.5,243.7 413.5,243.7 413.5,244.1 414.5,244.1 414.5,244.1 415.5,244.1 415.5,244.1 416.5,244.1 416.5,240.5 417.5,240.5 417.5,240.5 418.5,240.5 418.5,240.5 419.5,240.5 419.5,238.7 420.5,238.7 420.5,238.7 421.5,238.7 421.5,239.3 422.5,239.3 422.5,239.3 423.5,239.3 423.5,244.1 424.5,244.1 424.5,244.1 425.5,244.1 425.5,243.5 426.5,243.5 426.5,243.5 427.5,243.5 427.5,243.5 428.5,243.5 428.5,239.2 429.5,239.2 429.5,242.4 430.5,242.4 430.5,242.4 431.5,242.4 431.5,241.7 432.5,241.7 432.5,242.1 433.5,242.1 433.5,242.9 434.5,242.9 434.5,242.1 435.5,242.1 435.5,242.1 436.5,242.1 436.5,243.1 437.5,243.1 437.5,243.1 438.5,243.1 438.5,242.2 439.5,242.2 439.5,242.2 440.5,242.2 440.5,243.7 441.5,243.7 441.5,243.7 442.5,243.7 442.5,243.7 443.5,243.7 443.5,243.5 444.5,243.5 444.5,242.6 445.5,242.6 445.5,242.6 446.5,242.6 446.5,243.4 447.5,243.4 447.5,243.4 448.5,243.4 448.5,243.2 449.5,243.2 449.5,243.2 450.5,243.2 450.5,244.3 451.5,244.3 451.5,242.0 452.5,242.0 452.5,242.0 453.5,242.0 453.5,243.8 454.5,243.8 454.5,243.5 455.5,243.5 455.5,243.6 456.5,243.6 456.5,252.6 455.5,252.6 455.5,252.6 454.5,252.6 454.5,252.6 453.5,252.6 453.5,251.9 452.5,251.9 452.5,251.9 451.5,251.9 451.5,251.6 450.5,251.6 450.5,251.6 449.5,251.6 449.5,250.5 448.5,250.5 448.5,250.5 447.5,250.5 447.5,253.8 446.5,253.8 446.5,253.8 445.5,253.8 445.5,253.8 444.5,253.8 444.5,251.1 443.5,251.1 443.5,251.1 442.5,251.1 442.5,250.7 441.5,250.7 441.5,250.7 440.5,250.7 440.5,251.5 439.5,251.5 439.5,251.5 438.5,251.5 438.5,251.4 437.5,251.4 437.5,251.4 436.5,251.4 436.5,254.3 435.5,254.3 435.5,254.3 434.5,254.3 434.5,251.2 433.5,251.2 433.5,251.2 432.5,251.2 432.5,252.1 431.5,252.1 431.5,252.1 430.5,252.1 430.5,251.0 429.5,251.0 429.5,251.0 428.5,251.0 428.5,251.0 427.5,251.0 427.5,251.3 426.5,251.3 426.5,251.3 425.5,251.3 425.5,251.3 424.5,251.3 424.5,251.2 423.5,251.2 423.5,252.0 422.5,252.0 422.5,251.9 421.5,251.9 421.5,250.6 420.5,250.6 420.5,250.6 419.5,250.6 419.5,250.5 418.5,250.5 418.5,250.5 417.5,250.5 417.5,250.0 416.5,250.0 416.5,250.0 415.5,250.0 415.5,250.9 414.5,250.9 414.5,250.9 413.5,250.9 413.5,250.9 412.5,250.9 412.5,251.9 411.5,251.9 411.5,250.9 410.5,250.9 410.5,252.1 409.5,252.1 409.5,252.1 408.5,252.1 408.5,251.5 407.5,251.5 407.5,251.0 406.5,251.0 406.5,251.0 405.5,251.0 405.5,252.2 404.5,252.2 404.5,251.2 403.5,251.2 403.5,251.2 402.5,251.2 402.5,250.1 401.5,250.1 401.5,250.1 400.5,250.1 400.5,251.3 399.5,251.3 399.5,251.3 398.5,251.3 398.5,251.5 397.5,251.5 397.5,250.8 396.5,250.8 396.5,250.8 395.5,250.8 395.5,250.1 394.5,250.1 394.5,250.1 393.5,250.1 393.5,251.1 392.5,251.1 392.5,249.7 391.5,249.7 391.5,249.7 390.5,249.7 390.5,250.1 389.5,250.1 389.5,252.1 388.5,252.1 388.5,252.1 387.5,252.1 387.5,251.9 386.5,251.9 386.5,251.9 385.5,251.9 385.5,252.1 384.5,252.1 384.5,252.4 383.5,252.4 383.5,252.3 382.5,252.3 382.5,249.7 381.5,249.7 381.5,249.6 380.5,249.6 380.5,249.6 379.5,249.6 379.5,252.2 378.5,252.2 378.5,250.3 377.5,250.3 377.5,250.3 376.5,250.3 376.5,250.2 375.5,250.2 375.5,250.6 374.5,250.6 374.5,250.6 373.5,250.6 373.5,250.6 372.5,250.6 372.5,251.5 371.5,251.5 371.5,251.5 370.5,251.5 370.5,251.4 369.5,251.4 369.5,250.4 368.5,250.4 368.5,251.8 367.5,251.8 367.5,251.7 366.5,251.7 366.5,249.7 365.5,249.7 365.5,249.7 364.5,249.7 364.5,249.5 363.5,249.5 363.5,249.5 362.5,249.5 362.5,251.6 361.5,251.6 361.5,251.6 360.5,251.6 360.5,250.0 359.5,250.0 359.5,250.0 358.5,250.0 358.5,251.4 357.5,251.4 357.5,251.3 356.5,251.3 356.5,250.4 355.5,250.4 355.5,250.4 354.5,250.4 354.5,250.3 353.5,250.3 353.5,248.8 352.5,248.8 352.5,248.7 351.5,248.7 351.5,249.5 350.5,249.5 350.5,248.5 349.5,248.5 349.5,249.0 348.5,249.0 348.5,248.9 347.5,248.9 347.5,252.2 346.5,252.2 346.5,252.0 345.5,252.0 345.5,249.0 344.5,249.0 344.5,248.9 343.5,248.9 343.5,248.6 342.5,248.6 342.5,250.4 341.5,250.4 341.5,250.1 340.5,250.1 340.5,247.8 339.5,247.8 339.5,247.4 338.5,247.4 338.5,247.0 337.5,247.0 337.5,245.3 336.5,245.3 336.5,247.4 335.5,247.4 335.5,244.6 334.5,244.6 334.5,245.9 333.5,245.9 333.5,243.1 332.5,243.1 332.5,242.8 331.5,242.8 331.5,244.2 330.5,244.2 330.5,244.5 329.5,244.5 329.5,245.7 328.5,245.7 328.5,246.2 327.5,246.2 327.5,245.8 326.5,245.8 326.5,246.4 325.5,246.4 325.5,246.3 324.5,246.3 324.5,246.8 323.5,246.8 323.5,248.6 322.5,248.6 322.5,248.9 321.5,248.9 321.5,249.2 320.5,249.2 320.5,247.8 319.5,247.8 319.5,248.3 318.5,248.3 318.5,248.5 317.5,248.5 317.5,250.5 316.5,250.5 316.5,250.6 315.5,250.6 315.5,249.7 314.5,249.7 314.5,249.8 313.5,249.8 313.5,249.9 312.5,249.9 312.5,249.7 311.5,249.7 311.5,249.8 310.5,249.8 310.5,250.1 309.5,250.1 309.5,250.1 308.5,250.1 308.5,250.0 307.5,250.0 307.5,250.5 306.5,250.5 306.5,250.5 305.5,250.5 305.5,251.4 304.5,251.4 304.5,251.4 303.5,251.4 303.5,248.6 302.5,248.6 302.5,248.6 301.5,248.6 301.5,250.3 300.5,250.3 300.5,250.4 299.5,250.4 299.5,248.7 298.5,248.7 298.5,248.7 297.5,248.7 297.5,249.5 296.5,249.5 296.5,251.0 295.5,251.0 295.5,249.1 294.5,249.1 294.5,249.1 293.5,249.1 293.5,249.1 292.5,249.1 292.5,251.3 291.5,251.3 291.5,251.3 290.5,251.3 290.5,250.2 289.5,250.2 289.5,250.2 288.5,250.2 288.5,250.7 287.5,250.7 287.5,250.7 286.5,250.7 286.5,250.5 285.5,250.5 285.5,250.1 284.5,250.1 284.5,251.3 283.5,251.3 283.5,251.3 282.5,251.3 282.5,252.7 281.5,252.7 281.5,249.4 280.5,249.4 280.5,248.7 279.5,248.7 279.5,248.7 278.5,248.7 278.5,251.3 277.5,251.3 277.5,250.6 276.5,250.6 276.5,251.2 275.5,251.2 275.5,251.2 274.5,251.2 274.5,250.8 273.5,250.8 273.5,250.8 272.5,250.8 272.5,250.5 271.5,250.5 271.5,248.3 270.5,248.3 270.5,251.2 269.5,251.2 269.5,251.2 268.5,251.2 268.5,251.1 267.5,251.1 267.5,248.6 266.5,248.6 266.5,248.6 265.5,248.6 265.5,248.6 264.5,248.6 264.5,248.8 263.5,248.8 263.5,249.0 262.5,249.0 262.5,248.9 261.5,248.9 261.5,248.8 260.5,248.8 260.5,250.9 259.5,250.9 259.5,250.9 258.5,250.9 258.5,250.5 257.5,250.5 257.5,250.5 256.5,250.5 256.5,250.2 255.5,250.2 255.5,250.1 254.5,250.1 254.5,250.1 253.5,250.1 253.5,250.1 252.5,250.1 252.5,251.8 251.5,251.8 251.5,251.3 250.5,251.3 250.5,251.3 249.5,251.3 249.5,250.7 248.5,250.7 248.5,250.7 247.5,250.7 247.5,248.7 246.5,248.7 246.5,248.3 245.5,248.3 245.5,248.3 244.5,248.3 244.5,249.1 243.5,249.1 243.5,249.0 242.5,249.0 242.5,247.7 241.5,247.7 241.5,247.7 240.5,247.7 240.5,247.7 239.5,247.7 239.5,247.9 238.5,247.9 238.5,247.8 237.5,247.8 237.5,250.0 236.5,250.0 236.5,250.0 235.5,250.0 235.5,249.2 234.5,249.2 234.5,249.2 233.5,249.2 233.5,248.2 232.5,248.2 232.5,248.2 231.5,248.2 231.5,249.9 230.5,249.9 230.5,249.9 229.5,249.9 229.5,249.8 228.5,249.8 228.5,250.2 227.5,250.2 227.5,250.1 226.5,250.1 226.5,247.7 225.5,247.7 225.5,247.6 224.5,247.6 224.5,247.9 223.5,247.9 223.5,247.7 222.5,247.7 222.5,246.6 221.5,246.6 221.5,246.4 220.5,246.4 220.5,246.1 219.5,246.1 219.5,245.7 218.5,245.7 218.5,246.4 217.5,246.4 217.5,245.8 216.5,245.8 216.5,245.1 215.5,245.1 215.5,244.0 214.5,244.0 214.5,242.9 213.5,242.9 213.5,242.1 212.5,242.1 212.5,240.7 211.5,240.7 211.5,237.8 210.5,237.8 210.5,236.7 209.5,236.7 209.5,237.3 208.5,237.3 208.5,237.6 207.5,237.6 207.5,240.1 206.5,240.1 206.5,241.5 205.5,241.5 205.5,242.8 204.5,242.8 204.5,245.9 203.5,245.9 203.5,243.6 202.5,243.6 202.5,244.2 201.5,244.2 201.5,245.0 200.5,245.0 200.5,246.6 199.5,246.6 199.5,247.0 198.5,247.0 198.5,246.2 197.5,246.2 197.5,249.8 196.5,249.8 196.5,246.9 195.5,246.9 195.5,247.0 194.5,247.0 194.5,246.5 193.5,246.5 193.5,246.6 192.5,246.6 192.5,246.0 191.5,246.0 191.5,246.4 190.5,246.4 190.5,246.3 189.5,246.3 189.5,249.2 188.5,249.2 188.5,248.7 187.5,248.7 187.5,246.7 186.5,246.7 186.5,246.6 185.5,246.6 185.5,246.3 184.5,246.3 184.5,246.2 183.5,246.2 183.5,248.7 182.5,248.7 182.5,248.6 181.5,248.6 181.5,246.3 180.5,246.3 180.5,246.1 179.5,246.1 179.5,245.6 178.5,245.6 178.5,245.4 177.5,245.4 177.5,245.2 176.5,245.2 176.5,244.1 175.5,244.1 175.5,243.8 174.5,243.8 174.5,243.3 173.5,243.3 173.5,244.1 172.5,244.1 172.5,243.6 171.5,243.6 171.5,244.0 170.5,244.0 170.5,240.7 169.5,240.7 169.5,242.6 168.5,242.6 168.5,241.7 167.5,241.7 167.5,238.2 166.5,238.2 166.5,239.8 165.5,239.8 165.5,238.7 164.5,238.7 164.5,243.3 163.5,243.3 163.5,237.6 162.5,237.6 162.5,236.6 161.5,236.6 161.5,235.4 160.5,235.4 160.5,234.7 159.5,234.7 159.5,234.4 158.5,234.4 158.5,234.3 157.5,234.3 157.5,234.2 156.5,234.2 156.5,233.7 155.5,233.7 155.5,234.3 154.5,234.3 154.5,236.1 153.5,236.1 153.5,236.8 152.5,236.8 152.5,237.4 151.5,237.4 151.5,235.3 150.5,235.3 150.5,235.8 149.5,235.8 149.5,236.3 148.5,236.3 148.5,237.0 147.5,237.0 147.5,238.1 146.5,238.1 146.5,238.0 145.5,238.0 145.5,238.3 144.5,238.3 144.5,240.5 143.5,240.5 143.5,240.6 142.5,240.6 142.5,238.4 141.5,238.4 141.5,238.3 140.5,238.3 140.5,238.4 139.5,238.4 139.5,238.1 138.5,238.1 138.5,238.1 137.5,238.1 137.5,240.6 136.5,240.6 136.5,240.6 135.5,240.6 135.5,239.9 134.5,239.9 134.5,239.8 133.5,239.8 133.5,240.6 132.5,240.6 132.5,240.6 131.5,240.6 131.5,239.5 130.5,239.5 130.5,239.4 129.5,239.4 129.5,239.5 128.5,239.5 128.5,237.5 127.5,237.5 127.5,237.5 126.5,237.5 126.5,237.6 125.5,237.6 125.5,238.0 124.5,238.0 124.5,239.7 123.5,239.7 123.5,237.6 122.5,237.6 122.5,240.5 121.5,240.5 121.5,240.5 120.5,240.5 120.5,240.6 119.5,240.6 119.5,240.6 118.5,240.6 118.5,240.9 117.5,240.9 117.5,240.9 116.5,240.9 116.5,238.5 115.5,238.5 115.5,238.1 114.5,238.1 114.5,240.4 113.5,240.4 113.5,240.4 112.5,240.4 112.5,240.4 111.5,240.4 111.5,238.0 110.5,238.0 110.5,239.0 109.5,239.0 109.5,239.1 108.5,239.1 108.5,238.0 107.5,238.0 107.5,240.3 106.5,240.3 106.5,239.6 105.5,239.6 105.5,239.6 104.5,239.6 104.5,239.6 103.5,239.6 103.5,238.0 102.5,238.0 102.5,238.2 101.5,238.2 101.5,238.2 100.5,238.2 100.5,238.2 99.5,238.2 99.5,245.2 98.5,245.2 98.5,245.2 97.5,245.2 97.5,245.2 96.5,245.2 96.5,238.5 95.5,238.5 95.5,240.7 94.5,240.7 94.5,240.0 93.5,240.0 93.5,240.0 92.5,240.0 92.5,240.0 91.5,240.0 91.5,239.9 90.5,239.9 90.5,239.7 89.5,239.7 89.5,239.7 88.5,239.7 88.5,239.7 87.5,239.7 87.5,239.4 86.5,239.4 86.5,239.4 85.5,239.4 85.5,241.5 84.5,241.5 84.5,241.5 83.5,241.5 83.5,241.2 82.5,241.2 82.5,241.2 81.5,241.2 81.5,241.2 80.5,241.2 80.5,239.6 79.5,239.6 79.5,239.6 78.5,239.6 78.5,239.6 77.5,239.6 77.5,238.8 76.5,238.8 76.5,238.8 75.5,238.8 75.5,240.7 74.5,240.7 74.5,240.7 73.5,240.7 73.5,243.7 72.5,243.7 72.5,243.7 71.5,243.7 71.5,239.5 70.5,239.5 70.5,239.5 69.5,239.5 69.5,238.9 68.5,238.9 68.5,238.9 67.5,238.9 67.5,238.3 66.5,238.3 66.5,238.3 65.5,238.3 65.5,238.1 64.5,238.1 64.5,238.2 63.5,238.2 63.5,240.7 62.5,240.7 62.5,238.3 61.5,238.3 61.5,240.7 60.5,240.7 60.5,239.1 59.5,239.1 59.5,239.2 58.5,239.2 58.5,241.4 57.5,241.4 57.5,241.4 56.5,241.4 56.5,239.3 55.5,239.3 55.5,239.3 54.5,239.3 54.5,242.0 53.5,242.0 53.5,242.0 52.5,242.0 52.5,242.0 51.5,242.0 51.5,238.8 50.5,238.8 50.5,238.8 49.5,238.8 49.5,239.2 48.5,239.2 48.5,240.2 47.5,240.2 47.5,243.5 46.5,243.5 46.5,243.5 45.5,243.5" fill="#ff0d0d" stroke="#ff0d0d" stroke-width="0.5"/>
<polygon points="45.5,142.1 46.5,142.1 46.5,142.1 47.5,142.1 47.5,142.7 48.5,142.7 48.5,142.4 49.5,142.4 49.5,140.0 50.5,140.0 50.5,140.8 51.5,140.8 51.5,143.9 52.5,143.9 52.5,144.2 53.5,144.2 53.5,144.5 54.5,144.5 54.5,145.5 55.5,145.5 55.5,143.5 56.5,143.5 56.5,147.2 57.5,147.2 57.5,147.3 58.5,147.3 58.5,145.1 59.5,145.1 59.5,145.2 60.5,145.2 60.5,145.4 61.5,145.4 61.5,147.7 62.5,147.7 62.5,147.9 63.5,147.9 63.5,144.9 64.5,144.9 64.5,145.0 65.5,145.0 65.5,147.5 66.5,147.5 66.5,147.7 67.5,147.7 67.5,145.3 68.5,145.3 68.5,145.5 69.5,145.5 69.5,146.0 70.5,146.0 70.5,146.1 71.5,146.1 71.5,146.2 72.5,146.2 72.5,148.8 73.5,148.8 73.5,149.0 74.5,149.0 74.5,149.1 75.5,149.1 75.5,145.1 76.5,145.1 76.5,145.2 77.5,145.2 77.5,145.3 78.5,145.3 78.5,146.7 79.5,146.7 79.5,146.8 80.5,146.8 80.5,148.5 81.5,148.5 81.5,149.3 82.5,149.3 82.5,149.4 83.5,149.4 83.5,147.7 84.5,147.7 84.5,147.8 85.5,147.8 85.5,147.9 86.5,147.9 86.5,148.1 87.5,148.1 87.5,148.2 88.5,148.2 88.5,148.5 89.5,148.5 89.5,150.0 90.5,150.0 90.5,150.2 91.5,150.2 91.5,150.3 92.5,150.3 92.5,146.2 93.5,146.2 93.5,149.2 94.5,149.2 94.5,149.2 95.5,149.2 95.5,150.6 96.5,150.6 96.5,150.6 97.5,150.6 97.5,151.7 98.5,151.7 98.5,151.7 99.5,151.7 99.5,150.0 100.5,150.0 100.5,151.4 101.5,151.4 101.5,149.5 102.5,149.5 102.5,149.5 103.5,149.5 103.5,151.3 104.5,151.3 104.5,151.3 105.5,151.3 105.5,151.0 106.5,151.0 106.5,151.0 107.5,151.0 107.5,151.1 108.5,151.1 108.5,150.5 109.5,150.5 109.5,151.0 110.5,151.0 110.5,151.1 111.5,151.1 111.5,151.1 112.5,151.1 112.5,147.2 113.5,147.2 113.5,147.1 114.5,147.1 114.5,147.2 115.5,147.2 115.5,150.7 116.5,150.7 116.5,150.7 117.5,150.7 117.5,151.0 118.5,151.0 118.5,151.0 119.5,151.0 119.5,152.6 120.5,152.6 120.5,152.6 121.5,152.6 121.5,151.6 122.5,151.6 122.5,150.6 123.5,150.6 123.5,150.0 124.5,150.0 124.5,150.0 125.5,150.0 125.5,152.6 126.5,152.6 126.5,152.4 127.5,152.4 127.5,152.4 128.5,152.4 128.5,149.2 129.5,149.2 129.5,149.2 130.5,149.2 130.5,151.9 131.5,151.9 131.5,151.9 132.5,151.9 132.5,151.1 133.5,151.1 133.5,151.1 134.5,151.1 134.5,150.8 135.5,150.8 135.5,150.8 136.5,150.8 136.5,150.8 137.5,150.8 137.5,151.8 138.5,151.8 138.5,151.8 139.5,151.8 139.5,152.0 140.5,152.0 140.5,151.9 141.5,151.9 141.5,151.9 142.5,151.9 142.5,151.1 143.5,151.1 143.5,151.1 144.5,151.1 144.5,151.2 145.5,151.2 145.5,149.3 146.5,149.3 146.5,151.0 147.5,151.0 147.5,150.9 148.5,150.9 148.5,150.4 149.5,150.4 149.5,150.2 150.5,150.2 150.5,149.8 151.5,149.8 151.5,148.5 152.5,148.5 152.5,145.7 153.5,145.7 153.5,144.4 154.5,144.4 154.5,144.9 155.5,144.9 155.5,140.3 156.5,140.3 156.5,127.6 157.5,127.6 157.5,103.3 158.5,103.3 158.5,103.3 159.5,103.3 159.5,106.8 160.5,106.8 160.5,131.2 161.5,131.2 161.5,143.6 162.5,143.6 162.5,147.4 163.5,147.4 163.5,149.7 164.5,149.7 164.5,150.3 165.5,150.3 165.5,151.2 166.5,151.2 166.5,153.0 167.5,153.0 167.5,153.5 168.5,153.5 168.5,154.0 169.5,154.0 169.5,153.1 170.5,153.1 170.5,155.5 171.5,155.5 171.5,155.8 172.5,155.8 172.5,155.0 173.5,155.0 173.5,155.3 174.5,155.3 174.5,155.5 175.5,155.5 175.5,156.2 176.5,156.2 176.5,156.6 177.5,156.6 177.5,156.7 178.5,156.7 178.5,157.6 179.5,157.6 179.5,157.7 180.5,157.7 180.5,155.6 181.5,155.6 181.5,156.7 182.5,156.7 182.5,156.4 183.5,156.4 183.5,155.2 184.5,155.2 184.5,151.4 185.5,151.4 185.5,150.3 186.5,150.3 186.5,149.0 187.5,149.0 187.5,153.4 188.5,153.4 188.5,156.4 189.5,156.4 189.5,156.8 190.5,156.8 190.5,157.1 191.5,157.1 191.5,157.6 192.5,157.6 192.5,157.2 193.5,157.2 193.5,155.0 194.5,155.0 194.5,149.5 195.5,149.5 195.5,149.5 196.5,149.5 196.5,149.5 197.5,149.5 197.5,154.7 198.5,154.7 198.5,156.7 199.5,156.7 199.5,157.2 200.5,157.2 200.5,155.9 201.5,155.9 201.5,155.6 202.5,155.6 202.5,156.8 203.5,156.8 203.5,155.5 204.5,155.5 204.5,154.1 205.5,154.1 205.5,150.0 206.5,150.0 206.5,143.9 207.5,143.9 207.5,129.2 208.5,129.2 208.5,129.8 209.5,129.8 209.5,131.6 210.5,131.6 210.5,146.6 211.5,146.6 211.5,152.8 212.5,152.8 212.5,154.0 213.5,154.0 213.5,155.3 214.5,155.3 214.5,155.0 215.5,155.0 215.5,155.5 216.5,155.5 216.5,158.4 217.5,158.4 217.5,157.6 218.5,157.6 218.5,158.4 219.5,158.4 219.5,158.6 220.5,158.6 220.5,157.5 221.5,157.5 221.5,158.9 222.5,158.9 222.5,159.0 223.5,159.0 223.5,157.1 224.5,157.1 224.5,157.1 225.5,157.1 225.5,157.2 226.5,157.2 226.5,157.2 227.5,157.2 227.5,157.8 228.5,157.8 228.5,157.9 229.5,157.9 229.5,157.9 230.5,157.9 230.5,157.6 231.5,157.6 231.5,157.5 232.5,157.5 232.5,154.7 233.5,154.7 233.5,153.6 234.5,153.6 234.5,150.5 235.5,150.5 235.5,149.4 236.5,149.4 236.5,150.0 237.5,150.0 237.5,153.8 238.5,153.8 238.5,156.4 239.5,156.4 239.5,158.1 240.5,158.1 240.5,158.2 241.5,158.2 241.5,158.8 242.5,158.8 242.5,157.2 243.5,157.2 243.5,157.3 244.5,157.3 244.5,157.3 245.5,157.3 245.5,158.5 246.5,158.5 246.5,159.1 247.5,159.1 247.5,159.1 248.5,159.1 248.5,159.7 249.5,159.7 249.5,159.7 250.5,159.7 250.5,157.8 251.5,157.8 251.5,157.8 252.5,157.8 252.5,160.0 253.5,160.0 253.5,160.1 254.5,160.1 254.5,160.1 255.5,160.1 255.5,159.3 256.5,159.3 256.5,158.4 257.5,158.4 257.5,158.4 258.5,158.4 258.5,159.1 259.5,159.1 259.5,160.2 260.5,160.2 260.5,160.2 261.5,160.2 261.5,160.3 262.5,160.3 262.5,159.5 263.5,159.5 263.5,159.5 264.5,159.5 264.5,159.7 265.5,159.7 265.5,159.7 266.5,159.7 266.5,159.8 267.5,159.8 267.5,159.1 268.5,159.1 268.5,159.1 269.5,159.1 269.5,158.4 270.5,158.4 270.5,158.4 271.5,158.4 271.5,158.4 272.5,158.4 272.5,158.2 273.5,158.2 273.5,158.2 274.5,158.2 274.5,158.2 275.5,158.2 275.5,158.0 276.5,158.0 276.5,157.9 277.5,157.9 277.5,159.4 278.5,159.4 278.5,159.3 279.5,159.3 279.5,159.0 280.5,159.0 280.5,157.3 281.5,157.3 281.5,156.2 282.5,156.2 282.5,151.7 283.5,151.7 283.5,151.1 284.5,151.1 284.5,150.5 285.5,150.5 285.5,155.0 286.5,155.0 286.5,157.9 287.5,157.9 287.5,159.6 288.5,159.6 288.5,160.0 289.5,160.0 289.5,160.2 290.5,160.2 290.5,158.3 291.5,158.3 291.5,160.7 292.5,160.7 292.5,155.7 293.5,155.7 293.5,155.7 294.5,155.7 294.5,160.0 295.5,160.0 295.5,160.0 296.5,160.0 296.5,160.9 297.5,160.9 297.5,159.7 298.5,159.7 298.5,159.7 299.5,159.7 299.5,159.8 300.5,159.8 300.5,158.7 301.5,158.7 301.5,158.7 302.5,158.7 302.5,158.7 303.5,158.7 303.5,159.3 304.5,159.3 304.5,159.3 305.5,159.3 305.5,159.4 306.5,159.4 306.5,159.4 307.5,159.4 307.5,159.4 308.5,159.4 308.5,160.1 309.5,160.1 309.5,160.1 310.5,160.1 310.5,160.1 311.5,160.1 311.5,158.8 312.5,158.8 312.5,158.7 313.5,158.7 313.5,158.7 314.5,158.7 314.5,160.6 315.5,160.6 315.5,160.5 316.5,160.5 316.5,159.4 317.5,159.4 317.5,159.3 318.5,159.3 318.5,158.9 319.5,158.9 319.5,158.9 320.5,158.9 320.5,160.0 321.5,160.0 321.5,159.9 322.5,159.9 322.5,159.5 323.5,159.5 323.5,159.2 324.5,159.2 324.5,158.8 325.5,158.8 325.5,157.4 326.5,157.4 326.5,156.4 327.5,156.4 327.5,153.7 328.5,153.7 328.5,151.8 329.5,151.8 329.5,141.7 330.5,141.7 330.5,134.1 331.5,134.1 331.5,134.8 332.5,134.8 332.5,139.4 333.5,139.4 333.5,150.1 334.5,150.1 334.5,155.1 335.5,155.1 335.5,157.1 336.5,157.1 336.5,153.6 337.5,153.6 337.5,154.3 338.5,154.3 338.5,158.6 339.5,158.6 339.5,155.2 340.5,155.2 340.5,155.5 341.5,155.5 341.5,155.6 342.5,155.6 342.5,156.2 343.5,156.2 343.5,158.7 344.5,158.7 344.5,158.8 345.5,158.8 345.5,160.4 346.5,160.4 346.5,160.4 347.5,160.4 347.5,161.2 348.5,161.2 348.5,161.3 349.5,161.3 349.5,161.3 350.5,161.3 350.5,159.3 351.5,159.3 351.5,159.3 352.5,159.3 352.5,161.1 353.5,161.1 353.5,159.2 354.5,159.2 354.5,159.3 355.5,159.3 355.5,161.7 356.5,161.7 356.5,161.8 357.5,161.8 357.5,161.2 358.5,161.2 358.5,161.1 359.5,161.1 359.5,161.1 360.5,161.1 360.5,161.1 361.5,161.1 361.5,161.1 362.5,161.1 362.5,161.1 363.5,161.1 363.5,160.8 364.5,160.8 364.5,160.5 365.5,160.5 365.5,160.0 366.5,160.0 366.5,160.0 367.5,160.0 367.5,161.5 368.5,161.5 368.5,161.7 369.5,161.7 369.5,161.7 370.5,161.7 370.5,161.3 371.5,161.3 371.5,161.3 372.5,161.3 372.5,161.3 373.5,161.3 373.5,157.7 374.5,157.7 374.5,157.8 375.5,157.8 375.5,160.0 376.5,160.0 376.5,160.0 377.5,160.0 377.5,160.1 378.5,160.1 378.5,161.2 379.5,161.2 379.5,161.8 380.5,161.8 380.5,161.9 381.5,161.9 381.5,161.4 382.5,161.4 382.5,161.4 383.5,161.4 383.5,161.4 384.5,161.4 384.5,160.5 385.5,160.5 385.5,160.5 386.5,160.5 386.5,160.5 387.5,160.5 387.5,159.9 388.5,159.9 388.5,159.9 389.5,159.9 389.5,162.3 390.5,162.3 390.5,162.3 391.5,162.3 391.5,160.4 392.5,160.4 392.5,160.5 393.5,160.5 393.5,160.5 394.5,160.5 394.5,161.0 395.5,161.0 395.5,161.0 396.5,161.0 396.5,160.8 397.5,160.8 397.5,160.8 398.5,160.8 398.5,160.8 399.5,160.8 399.5,160.6 400.5,160.6 400.5,160.6 401.5,160.6 401.5,160.6 402.5,160.6 402.5,162.0 403.5,162.0 403.5,162.0 404.5,162.0 404.5,161.9 405.5,161.9 405.5,161.9 406.5,161.9 406.5,161.9 407.5,161.9 407.5,161.4 408.5,161.4 408.5,161.4 409.5,161.4 409.5,161.6 410.5,161.6 410.5,161.6 411.5,161.6 411.5,161.5 412.5,161.5 412.5,160.6 413.5,160.6 413.5,161.0 414.5,161.0 414.5,160.8 415.5,160.8 415.5,160.2 416.5,160.2 416.5,157.0 417.5,157.0 417.5,156.9 418.5,156.9 418.5,157.1 419.5,157.1 419.5,158.3 420.5,158.3 420.5,159.4 421.5,159.4 421.5,160.0 422.5,160.0 422.5,160.1 423.5,160.1 423.5,160.1 424.5,160.1 424.5,162.0 425.5,162.0 425.5,161.6 426.5,161.6 426.5,160.4 427.5,160.4 427.5,155.3 428.5,155.3 428.5,152.7 429.5,152.7 429.5,153.2 430.5,153.2 430.5,156.2 431.5,156.2 431.5,160.1 432.5,160.1 432.5,161.3 433.5,161.3 433.5,160.9 434.5,160.9 434.5,161.1 435.5,161.1 435.5,160.8 436.5,160.8 436.5,161.3 437.5,161.3 437.5,161.4 438.5,161.4 438.5,161.4 439.5,161.4 439.5,162.5 440.5,162.5 440.5,162.5 441.5,162.5 441.5,161.3 442.5,161.3 442.5,162.2 443.5,162.2 443.5,162.6 444.5,162.6 444.5,162.6 445.5,162.6 445.5,161.2 446.5,161.2 446.5,161.2 447.5,161.2 447.5,161.0 448.5,161.0 448.5,161.0 449.5,161.0 449.5,161.1 450.5,161.1 450.5,161.1 451.5,161.1 451.5,161.1 452.5,161.1 452.5,162.3 453.5,162.3 453.5,162.0 454.5,162.0 454.5,162.0 455.5,162.0 455.5,161.0 456.5,161.0 456.5,169.4 455.5,169.4 455.5,169.1 454.5,169.1 454.5,169.9 453.5,169.9 453.5,169.8 452.5,169.8 452.5,169.8 451.5,169.8 451.5,169.8 450.5,169.8 450.5,169.6 449.5,169.6 449.5,169.6 448.5,169.6 448.5,170.9 447.5,170.9 447.5,170.9 446.5,170.9 446.5,169.5 445.5,169.5 445.5,169.5 444.5,169.5 444.5,173.5 443.5,173.5 443.5,173.5 442.5,173.5 442.5,170.1 441.5,170.1 441.5,168.3 440.5,168.3 440.5,168.3 439.5,168.3 439.5,171.6 438.5,171.6 438.5,171.5 437.5,171.5 437.5,169.9 436.5,169.9 436.5,169.9 435.5,169.9 435.5,168.6 434.5,168.6 434.5,168.6 433.5,168.6 433.5,169.4 432.5,169.4 432.5,169.4 431.5,169.4 431.5,168.4 430.5,168.4 430.5,168.6 429.5,168.6 429.5,168.6 428.5,168.6 428.5,170.1 427.5,170.1 427.5,170.1 426.5,170.1 426.5,170.1 425.5,170.1 425.5,168.4 424.5,168.4 424.5,168.4 423.5,168.4 423.5,169.8 422.5,169.8 422.5,169.8 421.5,169.8 421.5,170.0 420.5,170.0 420.5,170.0 419.5,170.0 419.5,169.1 418.5,169.1 418.5,169.1 417.5,169.1 417.5,169.2 416.5,169.2 416.5,169.2 415.5,169.2 415.5,169.6 414.5,169.6 414.5,167.9 413.5,167.9 413.5,167.9 412.5,167.9 412.5,167.9 411.5,167.9 411.5,168.7 410.5,168.7 410.5,169.4 409.5,169.4 409.5,169.4 408.5,169.4 408.5,168.8 407.5,168.8 407.5,168.8 406.5,168.8 406.5,168.0 405.5,168.0 405.5,172.6 404.5,172.6 404.5,172.6 403.5,172.6 403.5,172.6 402.5,172.6 402.5,168.3 401.5,168.3 401.5,168.3 400.5,168.3 400.5,168.3 399.5,168.3 399.5,168.6 398.5,168.6 398.5,169.7 397.5,169.7 397.5,169.7 396.5,169.7 396.5,168.5 395.5,168.5 395.5,169.8 394.5,169.8 394.5,169.8 393.5,169.8 393.5,167.7 392.5,167.7 392.5,167.7 391.5,167.7 391.5,167.7 390.5,167.7 390.5,168.3 389.5,168.3 389.5,168.8 388.5,168.8 388.5,168.8 387.5,168.8 387.5,168.4 386.5,168.4 386.5,168.4 385.5,168.4 385.5,168.4 384.5,168.4 384.5,168.4 383.5,168.4 383.5,168.4 382.5,168.4 382.5,170.7 381.5,170.7 381.5,170.6 380.5,170.6 380.5,170.6 379.5,170.6 379.5,170.0 378.5,170.0 378.5,170.0 377.5,170.0 377.5,169.8 376.5,169.8 376.5,169.8 375.5,169.8 375.5,169.0 374.5,169.0 374.5,168.7 373.5,168.7 373.5,169.2 372.5,169.2 372.5,169.2 371.5,169.2 371.5,168.4 370.5,168.4 370.5,168.4 369.5,168.4 369.5,172.6 368.5,172.6 368.5,172.5 367.5,172.5 367.5,168.2 366.5,168.2 366.5,168.2 365.5,168.2 365.5,168.2 364.5,168.2 364.5,171.3 363.5,171.3 363.5,168.9 362.5,168.9 362.5,168.9 361.5,168.9 361.5,168.9 360.5,168.9 360.5,169.6 359.5,169.6 359.5,169.6 358.5,169.6 358.5,169.6 357.5,169.6 357.5,168.0 356.5,168.0 356.5,169.8 355.5,169.8 355.5,169.2 354.5,169.2 354.5,169.2 353.5,169.2 353.5,169.2 352.5,169.2 352.5,167.4 351.5,167.4 351.5,167.2 350.5,167.2 350.5,167.8 349.5,167.8 349.5,167.8 348.5,167.8 348.5,168.9 347.5,168.9 347.5,168.9 346.5,168.9 346.5,167.7 345.5,167.7 345.5,167.7 344.5,167.7 344.5,168.2 343.5,168.2 343.5,168.2 342.5,168.2 342.5,168.8 341.5,168.8 341.5,168.8 340.5,168.8 340.5,167.6 339.5,167.6 339.5,167.6 338.5,167.6 338.5,167.2 337.5,167.2 337.5,169.7 336.5,169.7 336.5,169.7 335.5,169.7 335.5,169.7 334.5,169.7 334.5,167.3 333.5,167.3 333.5,167.3 332.5,167.3 332.5,167.3 331.5,167.3 331.5,167.8 330.5,167.8 330.5,167.8 329.5,167.8 329.5,167.3 328.5,167.3 328.5,169.6 327.5,169.6 327.5,169.6 326.5,169.6 326.5,169.5 325.5,169.5 325.5,168.9 324.5,168.9 324.5,168.9 323.5,168.9 323.5,167.8 322.5,167.8 322.5,168.2 321.5,168.2 321.5,168.7 320.5,168.7 320.5,169.4 319.5,169.4 319.5,169.4 318.5,169.4 318.5,168.3 317.5,168.3 317.5,168.5 316.5,168.5 316.5,168.7 315.5,168.7 315.5,168.6 314.5,168.6 314.5,168.2 313.5,168.2 313.5,168.8 312.5,168.8 312.5,166.9 311.5,166.9 311.5,166.9 310.5,166.9 310.5,169.2 309.5,169.2 309.5,169.2 308.5,169.2 308.5,168.8 307.5,168.8 307.5,168.8 306.5,168.8 306.5,167.6 305.5,167.6 305.5,169.2 304.5,169.2 304.5,169.2 303.5,169.2 303.5,167.5 302.5,167.5 302.5,167.5 301.5,167.5 301.5,168.7 300.5,168.7 300.5,168.7 299.5,168.7 299.5,167.2 298.5,167.2 298.5,167.2 297.5,167.2 297.5,170.4 296.5,170.4 296.5,170.4 295.5,170.4 295.5,170.4 294.5,170.4 294.5,167.9 293.5,167.9 293.5,167.9 292.5,167.9 292.5,168.4 291.5,168.4 291.5,168.3 290.5,168.3 290.5,168.3 289.5,168.3 289.5,168.8 288.5,168.8 288.5,168.8 287.5,168.8 287.5,168.8 286.5,168.8 286.5,167.2 285.5,167.2 285.5,167.2 284.5,167.2 284.5,167.2 283.5,167.2 283.5,168.4 282.5,168.4 282.5,168.4 281.5,168.4 281.5,168.4 280.5,168.4 280.5,168.3 279.5,168.3 279.5,168.3 278.5,168.3 278.5,168.3 277.5,168.3 277.5,166.4 276.5,166.4 276.5,167.8 275.5,167.8 275.5,167.8 274.5,167.8 274.5,170.8 273.5,170.8 273.5,170.8 272.5,170.8 272.5,167.8 271.5,167.8 271.5,167.8 270.5,167.8 270.5,168.6 269.5,168.6 269.5,166.8 268.5,166.8 268.5,166.7 267.5,166.7 267.5,167.3 266.5,167.3 266.5,167.3 265.5,167.3 265.5,166.9 264.5,166.9 264.5,166.9 263.5,166.9 263.5,168.7 262.5,168.7 262.5,168.6 261.5,168.6 261.5,168.4 260.5,168.4 260.5,168.4 259.5,168.4 259.5,168.7 258.5,168.7 258.5,168.7 257.5,168.7 257.5,166.9 256.5,166.9 256.5,167.0 255.5,167.0 255.5,167.0 254.5,167.0 254.5,167.7 253.5,167.7 253.5,167.6 252.5,167.6 252.5,166.9 251.5,166.9 251.5,166.9 250.5,166.9 250.5,166.2 249.5,166.2 249.5,166.6 248.5,166.6 248.5,166.6 247.5,166.6 247.5,166.6 246.5,166.6 246.5,167.3 245.5,167.3 245.5,167.3 244.5,167.3 244.5,168.1 243.5,168.1 243.5,168.1 242.5,168.1 242.5,168.0 241.5,168.0 241.5,167.2 240.5,167.2 240.5,168.6 239.5,168.6 239.5,166.8 238.5,166.8 238.5,166.7 237.5,166.7 237.5,167.1 236.5,167.1 236.5,167.1 235.5,167.1 235.5,168.3 234.5,168.3 234.5,168.2 233.5,168.2 233.5,168.2 232.5,168.2 232.5,168.1 231.5,168.1 231.5,166.9 230.5,166.9 230.5,166.9 229.5,166.9 229.5,167.8 228.5,167.8 228.5,167.7 227.5,167.7 227.5,165.4 226.5,165.4 226.5,165.4 225.5,165.4 225.5,165.4 224.5,165.4 224.5,170.1 223.5,170.1 223.5,170.1 222.5,170.1 222.5,167.0 221.5,167.0 221.5,166.9 220.5,166.9 220.5,166.6 219.5,166.6 219.5,166.6 218.5,166.6 218.5,168.3 217.5,168.3 217.5,168.3 216.5,168.3 216.5,167.1 215.5,167.1 215.5,167.1 214.5,167.1 214.5,167.6 213.5,167.6 213.5,167.5 212.5,167.5 212.5,166.2 211.5,166.2 211.5,166.2 210.5,166.2 210.5,166.6 209.5,166.6 209.5,166.9 208.5,166.9 208.5,165.1 207.5,165.1 207.5,165.1 206.5,165.1 206.5,166.6 205.5,166.6 205.5,166.6 204.5,166.6 204.5,167.1 203.5,167.1 203.5,166.5 202.5,166.5 202.5,166.7 201.5,166.7 201.5,166.9 200.5,166.9 200.5,166.9 199.5,166.9 199.5,166.7 198.5,166.7 198.5,166.7 197.5,166.7 197.5,166.1 196.5,166.1 196.5,164.8 195.5,164.8 195.5,167.1 194.5,167.1 194.5,165.6 193.5,165.6 193.5,165.5 192.5,165.5 192.5,165.4 191.5,165.4 191.5,165.4 190.5,165.4 190.5,165.3 189.5,165.3 189.5,166.4 188.5,166.4 188.5,166.3 187.5,166.3 187.5,166.3 186.5,166.3 186.5,164.3 185.5,164.3 185.5,164.2 184.5,164.2 184.5,166.4 183.5,166.4 183.5,166.5 182.5,166.5 182.5,165.1 181.5,165.1 181.5,165.0 180.5,165.0 180.5,165.0 179.5,165.0 179.5,165.1 178.5,165.1 178.5,165.1 177.5,165.1 177.5,165.9 176.5,165.9 176.5,165.9 175.5,165.9 175.5,165.2 174.5,165.2 174.5,165.0 173.5,165.0 173.5,163.9 172.5,163.9 172.5,163.7 171.5,163.7 171.5,163.6 170.5,163.6 170.5,163.9 169.5,163.9 169.5,163.8 168.5,163.8 168.5,162.2 167.5,162.2 167.5,162.1 166.5,162.1 166.5,161.9 165.5,161.9 165.5,164.5 164.5,164.5 164.5,164.3 163.5,164.3 163.5,163.4 162.5,163.4 162.5,163.2 161.5,163.2 161.5,162.9 160.5,162.9 160.5,162.8 159.5,162.8 159.5,163.5 158.5,163.5 158.5,163.3 157.5,163.3 157.5,160.5 156.5,160.5 156.5,160.4 155.5,160.4 155.5,162.8 154.5,162.8 154.5,160.7 153.5,160.7 153.5,160.6 152.5,160.6 152.5,162.2 151.5,162.2 151.5,162.3 150.5,162.3 150.5,162.2 149.5,162.2 149.5,160.4 148.5,160.4 148.5,161.8 147.5,161.8 147.5,160.5 146.5,160.5 146.5,164.7 145.5,164.7 145.5,162.3 144.5,162.3 144.5,162.3 143.5,162.3 143.5,162.3 142.5,162.3 142.5,161.5 141.5,161.5 141.5,161.5 140.5,161.5 140.5,161.5 139.5,161.5 139.5,159.5 138.5,159.5 138.5,159.5 137.5,159.5 137.5,160.9 136.5,160.9 136.5,160.8 135.5,160.8 135.5,161.4 134.5,161.4 134.5,161.4 133.5,161.4 133.5,162.0 132.5,162.0 132.5,160.1 131.5,160.1 131.5,161.6 130.5,161.6 130.5,161.6 129.5,161.6 129.5,159.5 128.5,159.5 128.5,159.5 127.5,159.5 127.5,162.0 126.5,162.0 126.5,162.0 125.5,162.0 125.5,162.0 124.5,162.0 124.5,160.9 123.5,160.9 123.5,160.9 122.5,160.9 122.5,160.9 121.5,160.9 121.5,161.1 120.5,161.1 120.5,161.1 119.5,161.1 119.5,160.1 118.5,160.1 118.5,160.1 117.5,160.1 117.5,160.9 116.5,160.9 116.5,161.0 115.5,161.0 115.5,160.2 114.5,160.2 114.5,160.1 113.5,160.1 113.5,161.5 112.5,161.5 112.5,161.4 111.5,161.4 111.5,160.8 110.5,160.8 110.5,160.8 109.5,160.8 109.5,160.8 108.5,160.8 108.5,160.1 107.5,160.1 107.5,160.1 106.5,160.1 106.5,158.8 105.5,158.8 105.5,161.8 104.5,161.8 104.5,158.8 103.5,158.8 103.5,158.8 102.5,158.8 102.5,158.7 101.5,158.7 101.5,159.7 100.5,159.7 100.5,159.7 99.5,159.7 99.5,158.9 98.5,158.9 98.5,159.7 97.5,159.7 97.5,159.6 96.5,159.6 96.5,159.6 95.5,159.6 95.5,161.0 94.5,161.0 94.5,160.5 93.5,160.5 93.5,160.4 92.5,160.4 92.5,161.0 91.5,161.0 91.5,158.8 90.5,158.8 90.5,159.7 89.5,159.7 89.5,159.6 88.5,159.6 88.5,159.5 87.5,159.5 87.5,158.3 86.5,158.3 86.5,158.2 85.5,158.2 85.5,158.8 84.5,158.8 84.5,161.3 83.5,161.3 83.5,161.2 82.5,161.2 82.5,159.1 81.5,159.1 81.5,159.0 80.5,159.0 80.5,159.9 79.5,159.9 79.5,159.8 78.5,159.8 78.5,156.6 77.5,156.6 77.5,156.5 76.5,156.5 76.5,156.4 75.5,156.4 75.5,162.4 74.5,162.4 74.5,162.3 73.5,162.3 73.5,162.2 72.5,162.2 72.5,158.4 71.5,158.4 71.5,159.1 70.5,159.1 70.5,159.0 69.5,159.0 69.5,156.3 68.5,156.3 68.5,156.2 67.5,156.2 67.5,156.1 66.5,156.1 66.5,156.7 65.5,156.7 65.5,156.6 64.5,156.6 64.5,157.4 63.5,157.4 63.5,157.3 62.5,157.3 62.5,157.2 61.5,157.2 61.5,155.1 60.5,155.1 60.5,155.0 59.5,155.0 59.5,156.0 58.5,156.0 58.5,155.8 57.5,155.8 57.5,155.7 56.5,155.7 56.5,156.6 55.5,156.6 55.5,156.5 54.5,156.5 54.5,156.4 53.5,156.4 53.5,156.1 52.5,156.1 52.5,155.7 51.5,155.7 51.5,154.0 50.5,154.0 50.5,156.1 49.5,156.1 49.5,156.1 48.5,156.1 48.5,155.6 47.5,155.6 47.5,155.6 46.5,155.6 46.5,155.7 45.5,155.7" fill="#17a275" stroke="#17a275" stroke-width="0.5"/>
<polygon points="45.5,186.7 46.5,186.7 46.5,186.7 47.5,186.7 47.5,186.7 48.5,186.7 48.5,187.9 49.5,187.9 49.5,183.8 50.5,183.8 50.5,187.8 51.5,187.8 51.5,187.8 52.5,187.8 52.5,187.8 53.5,187.8 53.5,187.7 54.5,187.7 54.5,187.7 55.5,187.7 55.5,187.7 56.5,187.7 56.5,182.6 57.5,182.6 57.5,179.6 58.5,179.6 58.5,179.6 59.5,179.6 59.5,186.6 60.5,186.6 60.5,186.6 61.5,186.6 61.5,187.1 62.5,187.1 62.5,187.9 63.5,187.9 63.5,186.9 64.5,186.9 64.5,186.2 65.5,186.2 65.5,186.2 66.5,186.2 66.5,185.7 67.5,185.7 67.5,185.8 68.5,185.8 68.5,186.6 69.5,186.6 69.5,186.7 70.5,186.7 70.5,187.3 71.5,187.3 71.5,187.4 72.5,187.4 72.5,187.4 73.5,187.4 73.5,183.9 74.5,183.9 74.5,183.9 75.5,183.9 75.5,185.2 76.5,185.2 76.5,185.2 77.5,185.2 77.5,183.5 78.5,183.5 78.5,185.7 79.5,185.7 79.5,185.7 80.5,185.7 80.5,187.1 81.5,187.1 81.5,185.7 82.5,185.7 82.5,185.8 83.5,185.8 83.5,187.4 84.5,187.4 84.5,187.5 85.5,187.5 85.5,186.6 86.5,186.6 86.5,185.2 87.5,185.2 87.5,185.2 88.5,185.2 88.5,185.2 89.5,185.2 89.5,188.6 90.5,188.6 90.5,188.7 91.5,188.7 91.5,186.4 92.5,186.4 92.5,186.4 93.5,186.4 93.5,187.9 94.5,187.9 94.5,187.9 95.5,187.9 95.5,187.9 96.5,187.9 96.5,187.7 97.5,187.7 97.5,187.7 98.5,187.7 98.5,188.1 99.5,188.1 99.5,188.1 100.5,188.1 100.5,188.6 101.5,188.6 101.5,188.5 102.5,188.5 102.5,185.5 103.5,185.5 103.5,187.2 104.5,187.2 104.5,185.8 105.5,185.8 105.5,185.7 106.5,185.7 106.5,186.1 107.5,186.1 107.5,186.1 108.5,186.1 108.5,186.1 109.5,186.1 109.5,185.3 110.5,185.3 110.5,188.3 111.5,188.3 111.5,188.3 112.5,188.3 112.5,188.2 113.5,188.2 113.5,187.5 114.5,187.5 114.5,187.3 115.5,187.3 115.5,187.1 116.5,187.1 116.5,185.3 117.5,185.3 117.5,182.8 118.5,182.8 118.5,173.8 119.5,173.8 119.5,173.9 120.5,173.9 120.5,177.9 121.5,177.9 121.5,182.7 122.5,182.7 122.5,183.6 123.5,183.6 123.5,184.3 124.5,184.3 124.5,184.5 125.5,184.5 125.5,185.0 126.5,185.0 126.5,185.1 127.5,185.1 127.5,186.6 128.5,186.6 128.5,186.6 129.5,186.6 129.5,186.8 130.5,186.8 130.5,187.7 131.5,187.7 131.5,188.1 132.5,188.1 132.5,184.5 133.5,184.5 133.5,184.7 134.5,184.7 134.5,185.6 135.5,185.6 135.5,185.6 136.5,185.6 136.5,182.1 137.5,182.1 137.5,182.0 138.5,182.0 138.5,186.0 139.5,186.0 139.5,187.4 140.5,187.4 140.5,187.4 141.5,187.4 141.5,185.9 142.5,185.9 142.5,185.9 143.5,185.9 143.5,187.5 144.5,187.5 144.5,187.4 145.5,187.4 145.5,186.1 146.5,186.1 146.5,184.5 147.5,184.5 147.5,184.4 148.5,184.4 148.5,184.2 149.5,184.2 149.5,183.6 150.5,183.6 150.5,183.6 151.5,183.6 151.5,184.8 152.5,184.8 152.5,184.5 153.5,184.5 153.5,182.8 154.5,182.8 154.5,181.3 155.5,181.3 155.5,179.3 156.5,179.3 156.5,167.4 157.5,167.4 157.5,147.3 158.5,147.3 158.5,147.4 159.5,147.4 159.5,150.3 160.5,150.3 160.5,171.1 161.5,171.1 161.5,181.3 162.5,181.3 162.5,184.7 163.5,184.7 163.5,186.1 164.5,186.1 164.5,187.1 165.5,187.1 165.5,186.0 166.5,186.0 166.5,186.5 167.5,186.5 167.5,186.9 168.5,186.9 168.5,187.0 169.5,187.0 169.5,187.3 170.5,187.3 170.5,188.4 171.5,188.4 171.5,188.5 172.5,188.5 172.5,190.6 173.5,190.6 173.5,190.8 174.5,190.8 174.5,188.6 175.5,188.6 175.5,188.8 176.5,188.8 176.5,188.9 177.5,188.9 177.5,190.8 178.5,190.8 178.5,190.9 179.5,190.9 179.5,191.0 180.5,191.0 180.5,191.9 181.5,191.9 181.5,192.1 182.5,192.1 182.5,192.2 183.5,192.2 183.5,190.1 184.5,190.1 184.5,191.3 185.5,191.3 185.5,190.1 186.5,190.1 186.5,190.2 187.5,190.2 187.5,191.5 188.5,191.5 188.5,190.7 189.5,190.7 189.5,193.2 190.5,193.2 190.5,193.3 191.5,193.3 191.5,186.7 192.5,186.7 192.5,186.8 193.5,186.8 193.5,191.3 194.5,191.3 194.5,191.4 195.5,191.4 195.5,188.0 196.5,188.0 196.5,188.0 197.5,188.0 197.5,188.0 198.5,188.0 198.5,191.5 199.5,191.5 199.5,192.1 200.5,192.1 200.5,193.3 201.5,193.3 201.5,193.1 202.5,193.1 202.5,191.9 203.5,191.9 203.5,191.1 204.5,191.1 204.5,188.7 205.5,188.7 205.5,185.1 206.5,185.1 206.5,177.7 207.5,177.7 207.5,163.3 208.5,163.3 208.5,163.7 209.5,163.7 209.5,167.2 210.5,167.2 210.5,184.0 211.5,184.0 211.5,192.3 212.5,192.3 212.5,195.0 213.5,195.0 213.5,196.8 214.5,196.8 214.5,195.7 215.5,195.7 215.5,197.7 216.5,197.7 216.5,198.0 217.5,198.0 217.5,198.3 218.5,198.3 218.5,195.6 219.5,195.6 219.5,195.8 220.5,195.8 220.5,197.6 221.5,197.6 221.5,195.8 222.5,195.8 222.5,197.1 223.5,197.1 223.5,197.2 224.5,197.2 224.5,199.6 225.5,199.6 225.5,198.4 226.5,198.4 226.5,198.4 227.5,198.4 227.5,198.0 228.5,198.0 228.5,198.0 229.5,198.0 229.5,198.5 230.5,198.5 230.5,198.4 231.5,198.4 231.5,198.1 232.5,198.1 232.5,197.8 233.5,197.8 233.5,195.7 234.5,195.7 234.5,192.3 235.5,192.3 235.5,191.2 236.5,191.2 236.5,190.3 237.5,190.3 237.5,193.7 238.5,193.7 238.5,198.2 239.5,198.2 239.5,198.9 240.5,198.9 240.5,199.9 241.5,199.9 241.5,197.5 242.5,197.5 242.5,197.7 243.5,197.7 243.5,197.7 244.5,197.7 244.5,198.6 245.5,198.6 245.5,198.6 246.5,198.6 246.5,198.0 247.5,198.0 247.5,194.7 248.5,194.7 248.5,197.7 249.5,197.7 249.5,198.6 250.5,198.6 250.5,198.7 251.5,198.7 251.5,199.8 252.5,199.8 252.5,199.9 253.5,199.9 253.5,200.6 254.5,200.6 254.5,200.7 255.5,200.7 255.5,199.4 256.5,199.4 256.5,199.9 257.5,199.9 257.5,200.0 258.5,200.0 258.5,195.5 259.5,195.5 259.5,197.2 260.5,197.2 260.5,198.5 261.5,198.5 261.5,198.9 262.5,198.9 262.5,198.9 263.5,198.9 263.5,198.9 264.5,198.9 264.5,199.0 265.5,199.0 265.5,199.9 266.5,199.9 266.5,199.9 267.5,199.9 267.5,199.2 268.5,199.2 268.5,199.3 269.5,199.3 269.5,199.3 270.5,199.3 270.5,201.2 271.5,201.2 271.5,201.2 272.5,201.2 272.5,199.0 273.5,199.0 273.5,199.1 274.5,199.1 274.5,201.6 275.5,201.6 275.5,201.1 276.5,201.1 276.5,201.2 277.5,201.2 277.5,200.8 278.5,200.8 278.5,200.8 279.5,200.8 279.5,201.7 280.5,201.7 280.5,199.4 281.5,199.4 281.5,199.4 282.5,199.4 282.5,202.1 283.5,202.1 283.5,202.1 284.5,202.1 284.5,200.5 285.5,200.5 285.5,201.5 286.5,201.5 286.5,201.6 287.5,201.6 287.5,201.7 288.5,201.7 288.5,200.3 289.5,200.3 289.5,201.0 290.5,201.0 290.5,201.1 291.5,201.1 291.5,202.3 292.5,202.3 292.5,202.4 293.5,202.4 293.5,200.8 294.5,200.8 294.5,200.8 295.5,200.8 295.5,200.0 296.5,200.0 296.5,200.0 297.5,200.0 297.5,200.0 298.5,200.0 298.5,200.0 299.5,200.0 299.5,196.8 300.5,196.8 300.5,198.0 301.5,198.0 301.5,198.0 302.5,198.0 302.5,199.0 303.5,199.0 303.5,199.0 304.5,199.0 304.5,200.5 305.5,200.5 305.5,200.5 306.5,200.5 306.5,201.3 307.5,201.3 307.5,201.7 308.5,201.7 308.5,201.7 309.5,201.7 309.5,203.1 310.5,203.1 310.5,203.1 311.5,203.1 311.5,200.2 312.5,200.2 312.5,203.0 313.5,203.0 313.5,200.5 314.5,200.5 314.5,200.5 315.5,200.5 315.5,202.2 316.5,202.2 316.5,200.5 317.5,200.5 317.5,202.6 318.5,202.6 318.5,202.6 319.5,202.6 319.5,202.8 320.5,202.8 320.5,202.6 321.5,202.6 321.5,200.8 322.5,200.8 322.5,200.6 323.5,200.6 323.5,201.2 324.5,201.2 324.5,200.8 325.5,200.8 325.5,200.9 326.5,200.9 326.5,200.0 327.5,200.0 327.5,198.1 328.5,198.1 328.5,194.4 329.5,194.4 329.5,186.6 330.5,186.6 330.5,182.9 331.5,182.9 331.5,181.1 332.5,181.1 332.5,184.0 333.5,184.0 333.5,192.0 334.5,192.0 334.5,196.5 335.5,196.5 335.5,198.4 336.5,198.4 336.5,199.3 337.5,199.3 337.5,199.8 338.5,199.8 338.5,200.2 339.5,200.2 339.5,200.4 340.5,200.4 340.5,201.1 341.5,201.1 341.5,200.4 342.5,200.4 342.5,202.2 343.5,202.2 343.5,201.6 344.5,201.6 344.5,201.7 345.5,201.7 345.5,201.7 346.5,201.7 346.5,202.9 347.5,202.9 347.5,202.9 348.5,202.9 348.5,201.4 349.5,201.4 349.5,201.4 350.5,201.4 350.5,199.1 351.5,199.1 351.5,199.1 352.5,199.1 352.5,199.1 353.5,199.1 353.5,201.7 354.5,201.7 354.5,201.5 355.5,201.5 355.5,203.3 356.5,203.3 356.5,203.3 357.5,203.3 357.5,202.5 358.5,202.5 358.5,202.6 359.5,202.6 359.5,201.4 360.5,201.4 360.5,202.3 361.5,202.3 361.5,202.3 362.5,202.3 362.5,202.4 363.5,202.4 363.5,202.4 364.5,202.4 364.5,202.0 365.5,202.0 365.5,202.0 366.5,202.0 366.5,203.8 367.5,203.8 367.5,203.8 368.5,203.8 368.5,203.4 369.5,203.4 369.5,203.5 370.5,203.5 370.5,203.5 371.5,203.5 371.5,203.6 372.5,203.6 372.5,203.7 373.5,203.7 373.5,203.7 374.5,203.7 374.5,202.8 375.5,202.8 375.5,202.9 376.5,202.9 376.5,202.2 377.5,202.2 377.5,202.2 378.5,202.2 378.5,203.8 379.5,203.8 379.5,203.8 380.5,203.8 380.5,204.4 381.5,204.4 381.5,204.4 382.5,204.4 382.5,201.7 383.5,201.7 383.5,201.7 384.5,201.7 384.5,203.4 385.5,203.4 385.5,201.3 386.5,201.3 386.5,201.4 387.5,201.4 387.5,198.6 388.5,198.6 388.5,198.6 389.5,198.6 389.5,202.4 390.5,202.4 390.5,202.4 391.5,202.4 391.5,202.1 392.5,202.1 392.5,204.2 393.5,204.2 393.5,204.2 394.5,204.2 394.5,204.2 395.5,204.2 395.5,203.4 396.5,203.4 396.5,203.5 397.5,203.5 397.5,199.4 398.5,199.4 398.5,199.4 399.5,199.4 399.5,204.4 400.5,204.4 400.5,204.4 401.5,204.4 401.5,204.5 402.5,204.5 402.5,204.8 403.5,204.8 403.5,204.8 404.5,204.8 404.5,203.8 405.5,203.8 405.5,203.8 406.5,203.8 406.5,204.7 407.5,204.7 407.5,204.7 408.5,204.7 408.5,202.5 409.5,202.5 409.5,202.6 410.5,202.6 410.5,204.3 411.5,204.3 411.5,204.3 412.5,204.3 412.5,204.1 413.5,204.1 413.5,204.1 414.5,204.1 414.5,202.6 415.5,202.6 415.5,202.6 416.5,202.6 416.5,202.6 417.5,202.6 417.5,204.0 418.5,204.0 418.5,204.0 419.5,204.0 419.5,203.6 420.5,203.6 420.5,202.5 421.5,202.5 421.5,202.5 422.5,202.5 422.5,203.1 423.5,203.1 423.5,203.1 424.5,203.1 424.5,203.9 425.5,203.9 425.5,203.9 426.5,203.9 426.5,204.9 427.5,204.9 427.5,204.9 428.5,204.9 428.5,204.5 429.5,204.5 429.5,204.5 430.5,204.5 430.5,204.5 431.5,204.5 431.5,202.6 432.5,202.6 432.5,202.6 433.5,202.6 433.5,202.7 434.5,202.7 434.5,204.7 435.5,204.7 435.5,204.7 436.5,204.7 436.5,204.8 437.5,204.8 437.5,204.3 438.5,204.3 438.5,205.2 439.5,205.2 439.5,205.3 440.5,205.3 440.5,204.0 441.5,204.0 441.5,204.0 442.5,204.0 442.5,202.8 443.5,202.8 443.5,204.0 444.5,204.0 444.5,203.7 445.5,203.7 445.5,203.7 446.5,203.7 446.5,203.4 447.5,203.4 447.5,203.5 448.5,203.5 448.5,203.6 449.5,203.6 449.5,203.6 450.5,203.6 450.5,203.6 451.5,203.6 451.5,203.7 452.5,203.7 452.5,203.7 453.5,203.7 453.5,205.4 454.5,205.4 454.5,205.4 455.5,205.4 455.5,205.4 456.5,205.4 456.5,214.0 455.5,214.0 455.5,213.7 454.5,213.7 454.5,213.7 453.5,213.7 453.5,212.2 452.5,212.2 452.5,212.2 451.5,212.2 451.5,211.4 450.5,211.4 450.5,211.4 449.5,211.4 449.5,211.4 448.5,211.4 448.5,211.4 447.5,211.4 447.5,213.3 446.5,213.3 446.5,213.3 445.5,213.3 445.5,212.4 444.5,212.4 444.5,212.4 443.5,212.4 443.5,214.9 442.5,214.9 442.5,213.3 441.5,213.3 441.5,211.7 440.5,211.7 440.5,211.7 439.5,211.7 439.5,212.6 438.5,212.6 438.5,212.6 437.5,212.6 437.5,212.9 436.5,212.9 436.5,212.9 435.5,212.9 435.5,211.0 434.5,211.0 434.5,210.9 433.5,210.9 433.5,210.9 432.5,210.9 432.5,212.5 431.5,212.5 431.5,212.5 430.5,212.5 430.5,212.4 429.5,212.4 429.5,211.8 428.5,211.8 428.5,211.8 427.5,211.8 427.5,215.0 426.5,215.0 426.5,213.2 425.5,213.2 425.5,212.9 424.5,212.9 424.5,212.9 423.5,212.9 423.5,210.9 422.5,210.9 422.5,210.9 421.5,210.9 421.5,211.5 420.5,211.5 420.5,211.4 419.5,211.4 419.5,211.3 418.5,211.3 418.5,211.3 417.5,211.3 417.5,211.9 416.5,211.9 416.5,211.8 415.5,211.8 415.5,211.8 414.5,211.8 414.5,210.9 413.5,210.9 413.5,210.9 412.5,210.9 412.5,210.8 411.5,210.8 411.5,210.7 410.5,210.7 410.5,210.7 409.5,210.7 409.5,210.7 408.5,210.7 408.5,214.0 407.5,214.0 407.5,216.4 406.5,216.4 406.5,216.4 405.5,216.4 405.5,216.4 404.5,216.4 404.5,211.0 403.5,211.0 403.5,211.0 402.5,211.0 402.5,210.6 401.5,210.6 401.5,210.6 400.5,210.6 400.5,212.2 399.5,212.2 399.5,212.2 398.5,212.2 398.5,212.2 397.5,212.2 397.5,212.9 396.5,212.9 396.5,212.9 395.5,212.9 395.5,212.9 394.5,212.9 394.5,212.1 393.5,212.1 393.5,213.0 392.5,213.0 392.5,211.4 391.5,211.4 391.5,211.4 390.5,211.4 390.5,211.9 389.5,211.9 389.5,214.1 388.5,214.1 388.5,211.6 387.5,211.6 387.5,211.6 386.5,211.6 386.5,211.5 385.5,211.5 385.5,212.8 384.5,212.8 384.5,212.8 383.5,212.8 383.5,210.8 382.5,210.8 382.5,210.8 381.5,210.8 381.5,210.8 380.5,210.8 380.5,210.7 379.5,210.7 379.5,210.7 378.5,210.7 378.5,210.7 377.5,210.7 377.5,210.7 376.5,210.7 376.5,210.8 375.5,210.8 375.5,210.8 374.5,210.8 374.5,210.8 373.5,210.8 373.5,210.3 372.5,210.3 372.5,210.9 371.5,210.9 371.5,212.0 370.5,212.0 370.5,211.9 369.5,211.9 369.5,210.7 368.5,210.7 368.5,210.7 367.5,210.7 367.5,212.6 366.5,212.6 366.5,210.3 365.5,210.3 365.5,210.3 364.5,210.3 364.5,210.2 363.5,210.2 363.5,211.5 362.5,211.5 362.5,210.1 361.5,210.1 361.5,210.9 360.5,210.9 360.5,210.9 359.5,210.9 359.5,212.1 358.5,212.1 358.5,210.0 357.5,210.0 357.5,210.0 356.5,210.0 356.5,210.0 355.5,210.0 355.5,212.1 354.5,212.1 354.5,212.1 353.5,212.1 353.5,211.6 352.5,211.6 352.5,211.6 351.5,211.6 351.5,213.2 350.5,213.2 350.5,213.2 349.5,213.2 349.5,214.8 348.5,214.8 348.5,214.8 347.5,214.8 347.5,214.7 346.5,214.7 346.5,210.8 345.5,210.8 345.5,210.3 344.5,210.3 344.5,212.3 343.5,212.3 343.5,211.3 342.5,211.3 342.5,211.3 341.5,211.3 341.5,215.7 340.5,215.7 340.5,215.7 339.5,215.7 339.5,211.8 338.5,211.8 338.5,211.8 337.5,211.8 337.5,212.5 336.5,212.5 336.5,212.5 335.5,212.5 335.5,212.5 334.5,212.5 334.5,213.2 333.5,213.2 333.5,213.1 332.5,213.1 332.5,213.1 331.5,213.1 331.5,210.0 330.5,210.0 330.5,210.0 329.5,210.0 329.5,210.6 328.5,210.6 328.5,209.7 327.5,209.7 327.5,211.8 326.5,211.8 326.5,211.8 325.5,211.8 325.5,212.8 324.5,212.8 324.5,212.8 323.5,212.8 323.5,212.8 322.5,212.8 322.5,211.1 321.5,211.1 321.5,211.1 320.5,211.1 320.5,209.9 319.5,209.9 319.5,209.8 318.5,209.8 318.5,211.9 317.5,211.9 317.5,211.9 316.5,211.9 316.5,211.9 315.5,211.9 315.5,210.1 314.5,210.1 314.5,210.1 313.5,210.1 313.5,214.7 312.5,214.7 312.5,214.7 311.5,214.7 311.5,211.0 310.5,211.0 310.5,211.0 309.5,211.0 309.5,212.0 308.5,212.0 308.5,212.0 307.5,212.0 307.5,211.2 306.5,211.2 306.5,211.2 305.5,211.2 305.5,209.8 304.5,209.8 304.5,209.7 303.5,209.7 303.5,210.6 302.5,210.6 302.5,211.5 301.5,211.5 301.5,211.5 300.5,211.5 300.5,209.3 299.5,209.3 299.5,209.2 298.5,209.2 298.5,209.2 297.5,209.2 297.5,211.5 296.5,211.5 296.5,211.4 295.5,211.4 295.5,210.6 294.5,210.6 294.5,210.6 293.5,210.6 293.5,210.3 292.5,210.3 292.5,210.4 291.5,210.4 291.5,210.0 290.5,210.0 290.5,211.2 289.5,211.2 289.5,211.2 288.5,211.2 288.5,208.9 287.5,208.9 287.5,208.9 286.5,208.9 286.5,208.5 285.5,208.5 285.5,208.5 284.5,208.5 284.5,210.3 283.5,210.3 283.5,209.1 282.5,209.1 282.5,210.8 281.5,210.8 281.5,210.7 280.5,210.7 280.5,210.6 279.5,210.6 279.5,210.6 278.5,210.6 278.5,210.6 277.5,210.6 277.5,209.9 276.5,209.9 276.5,211.5 275.5,211.5 275.5,211.5 274.5,211.5 274.5,210.6 273.5,210.6 273.5,210.5 272.5,210.5 272.5,210.5 271.5,210.5 271.5,207.8 270.5,207.8 270.5,210.1 269.5,210.1 269.5,210.0 268.5,210.0 268.5,210.0 267.5,210.0 267.5,207.9 266.5,207.9 266.5,209.9 265.5,209.9 265.5,209.8 264.5,209.8 264.5,208.8 263.5,208.8 263.5,208.8 262.5,208.8 262.5,211.2 261.5,211.2 261.5,211.2 260.5,211.2 260.5,208.4 259.5,208.4 259.5,208.4 258.5,208.4 258.5,208.4 257.5,208.4 257.5,208.4 256.5,208.4 256.5,209.6 255.5,209.6 255.5,209.6 254.5,209.6 254.5,209.5 253.5,209.5 253.5,212.0 252.5,212.0 252.5,212.0 251.5,212.0 251.5,209.5 250.5,209.5 250.5,209.5 249.5,209.5 249.5,209.5 248.5,209.5 248.5,209.4 247.5,209.4 247.5,209.4 246.5,209.4 246.5,207.2 245.5,207.2 245.5,207.2 244.5,207.2 244.5,207.2 243.5,207.2 243.5,209.7 242.5,209.7 242.5,209.7 241.5,209.7 241.5,207.3 240.5,207.3 240.5,207.3 239.5,207.3 239.5,208.0 238.5,208.0 238.5,208.0 237.5,208.0 237.5,208.7 236.5,208.7 236.5,208.7 235.5,208.7 235.5,209.5 234.5,209.5 234.5,208.6 233.5,208.6 233.5,209.7 232.5,209.7 232.5,207.6 231.5,207.6 231.5,207.0 230.5,207.0 230.5,207.5 229.5,207.5 229.5,208.9 228.5,208.9 228.5,208.9 227.5,208.9 227.5,206.8 226.5,206.8 226.5,206.8 225.5,206.8 225.5,210.3 224.5,210.3 224.5,210.3 223.5,210.3 223.5,208.0 222.5,208.0 222.5,209.4 221.5,209.4 221.5,209.4 220.5,209.4 220.5,211.2 219.5,211.2 219.5,211.2 218.5,211.2 218.5,208.5 217.5,208.5 217.5,208.5 216.5,208.5 216.5,209.2 215.5,209.2 215.5,209.2 214.5,209.2 214.5,209.2 213.5,209.2 213.5,209.4 212.5,209.4 212.5,209.4 211.5,209.4 211.5,208.9 210.5,208.9 210.5,208.3 209.5,208.3 209.5,204.9 208.5,204.9 208.5,204.3 207.5,204.3 207.5,203.6 206.5,203.6 206.5,203.0 205.5,203.0 205.5,202.3 204.5,202.3 204.5,203.8 203.5,203.8 203.5,203.7 202.5,203.7 202.5,201.7 201.5,201.7 201.5,201.6 200.5,201.6 200.5,202.0 199.5,202.0 199.5,204.0 198.5,204.0 198.5,204.0 197.5,204.0 197.5,203.6 196.5,203.6 196.5,201.7 195.5,201.7 195.5,201.6 194.5,201.6 194.5,203.6 193.5,203.6 193.5,206.8 192.5,206.8 192.5,206.7 191.5,206.7 191.5,202.1 190.5,202.1 190.5,202.0 189.5,202.0 189.5,201.9 188.5,201.9 188.5,203.4 187.5,203.4 187.5,200.8 186.5,200.8 186.5,200.7 185.5,200.7 185.5,203.0 184.5,203.0 184.5,202.8 183.5,202.8 183.5,199.8 182.5,199.8 182.5,202.0 181.5,202.0 181.5,201.4 180.5,201.4 180.5,200.6 179.5,200.6 179.5,200.4 178.5,200.4 178.5,200.2 177.5,200.2 177.5,200.1 176.5,200.1 176.5,200.0 175.5,200.0 175.5,200.1 174.5,200.1 174.5,200.0 173.5,200.0 173.5,201.6 172.5,201.6 172.5,201.5 171.5,201.5 171.5,199.5 170.5,199.5 170.5,199.4 169.5,199.4 169.5,199.3 168.5,199.3 168.5,201.3 167.5,201.3 167.5,201.2 166.5,201.2 166.5,201.1 165.5,201.1 165.5,199.9 164.5,199.9 164.5,199.8 163.5,199.8 163.5,200.2 162.5,200.2 162.5,200.1 161.5,200.1 161.5,200.9 160.5,200.9 160.5,200.9 159.5,200.9 159.5,199.4 158.5,199.4 158.5,199.1 157.5,199.1 157.5,198.0 156.5,198.0 156.5,197.7 155.5,197.7 155.5,196.7 154.5,196.7 154.5,199.4 153.5,199.4 153.5,199.1 152.5,199.1 152.5,198.6 151.5,198.6 151.5,198.3 150.5,198.3 150.5,198.2 149.5,198.2 149.5,198.2 148.5,198.2 148.5,198.3 147.5,198.3 147.5,195.8 146.5,195.8 146.5,198.3 145.5,198.3 145.5,198.3 144.5,198.3 144.5,197.2 143.5,197.2 143.5,197.2 142.5,197.2 142.5,203.4 141.5,203.4 141.5,198.4 140.5,198.4 140.5,198.4 139.5,198.4 139.5,198.4 138.5,198.4 138.5,199.1 137.5,199.1 137.5,199.1 136.5,199.1 136.5,199.2 135.5,199.2 135.5,196.7 134.5,196.7 134.5,196.7 133.5,196.7 133.5,197.1 132.5,197.1 132.5,199.2 131.5,199.2 131.5,199.3 130.5,199.3 130.5,200.0 129.5,200.0 129.5,199.0 128.5,199.0 128.5,196.1 127.5,196.1 127.5,196.1 126.5,196.1 126.5,196.1 125.5,196.1 125.5,197.3 124.5,197.3 124.5,197.3 123.5,197.3 123.5,197.5 122.5,197.5 122.5,196.5 121.5,196.5 121.5,199.1 120.5,199.1 120.5,199.1 119.5,199.1 119.5,199.9 118.5,199.9 118.5,200.0 117.5,200.0 117.5,197.9 116.5,197.9 116.5,197.9 115.5,197.9 115.5,198.5 114.5,198.5 114.5,198.6 113.5,198.6 113.5,199.7 112.5,199.7 112.5,199.7 111.5,199.7 111.5,196.6 110.5,196.6 110.5,196.7 109.5,196.7 109.5,199.1 108.5,199.1 108.5,199.1 107.5,199.1 107.5,200.2 106.5,200.2 106.5,200.1 105.5,200.1 105.5,199.0 104.5,199.0 104.5,199.1 103.5,199.1 103.5,199.1 102.5,199.1 102.5,200.2 101.5,200.2 101.5,200.3 100.5,200.3 100.5,203.6 99.5,203.6 99.5,203.6 98.5,203.6 98.5,197.6 97.5,197.6 97.5,197.5 96.5,197.5 96.5,197.2 95.5,197.2 95.5,197.2 94.5,197.2 94.5,197.7 93.5,197.7 93.5,197.6 92.5,197.6 92.5,198.7 91.5,198.7 91.5,199.6 90.5,199.6 90.5,199.4 89.5,199.4 89.5,199.3 88.5,199.3 88.5,199.4 87.5,199.4 87.5,199.4 86.5,199.4 86.5,200.2 85.5,200.2 85.5,200.4 84.5,200.4 84.5,200.4 83.5,200.4 83.5,200.5 82.5,200.5 82.5,200.5 81.5,200.5 81.5,200.5 80.5,200.5 80.5,196.7 79.5,196.7 79.5,196.6 78.5,196.6 78.5,196.6 77.5,196.6 77.5,198.4 76.5,198.4 76.5,200.2 75.5,200.2 75.5,198.6 74.5,198.6 74.5,198.6 73.5,198.6 73.5,197.3 72.5,197.3 72.5,200.1 71.5,200.1 71.5,200.1 70.5,200.1 70.5,199.5 69.5,199.5 69.5,199.5 68.5,199.5 68.5,198.8 67.5,198.8 67.5,198.8 66.5,198.8 66.5,198.9 65.5,198.9 65.5,199.4 64.5,199.4 64.5,196.6 63.5,196.6 63.5,199.0 62.5,199.0 62.5,199.0 61.5,199.0 61.5,198.3 60.5,198.3 60.5,198.3 59.5,198.3 59.5,198.3 58.5,198.3 58.5,199.3 57.5,199.3 57.5,199.6 56.5,199.6 56.5,197.7 55.5,197.7 55.5,197.7 54.5,197.7 54.5,200.0 53.5,200.0 53.5,196.6 52.5,196.6 52.5,196.6 51.5,196.6 51.5,199.5 50.5,199.5 50.5,198.6 49.5,198.6 49.5,198.6 48.5,198.6 48.5,197.1 47.5,197.1 47.5,197.1 46.5,197.1 46.5,199.2 45.5,199.2" fill="#1f30f0" stroke="#1f30f0" stroke-width="0.5"/>
<text transform="translate(52.8,37.2) scale(1.04,1)" font-family="Liberation Sans, sans-serif" font-size="33">(a)</text>
<rect x="108" y="27" width="11" height="10.5" fill="#000"/>
<text transform="translate(126.2,39) scale(0.965,1)" font-family="Liberation Sans, sans-serif" font-size="19">SnO<tspan font-size="14" dx="0" dy="6.2">2</tspan></text>
<circle cx="115" cy="53.8" r="5.8" fill="#ff1010"/>
<text transform="translate(127.8,61) scale(0.96,1)" font-family="Liberation Sans, sans-serif" font-size="19">Sn</text>
<rect x="154.3" y="95.4" width="10.6" height="9.5" fill="#000"/>
<rect x="203" y="119.8" width="10.6" height="9.5" fill="#000"/>
<rect x="231.3" y="135.3" width="10.3" height="10.3" fill="#000"/>
<rect x="326.6" y="124.9" width="10.7" height="9.5" fill="#000"/>
<circle cx="181.7" cy="139.6" r="5.8" fill="#ff1010"/>
<circle cx="197.2" cy="139.6" r="5.8" fill="#ff1010"/>
<circle cx="274.7" cy="144.2" r="5.8" fill="#ff1010"/>
<circle cx="286" cy="135.3" r="5.8" fill="#ff1010"/>
<line x1="239.5" y1="22.6" x2="274.5" y2="22.6" stroke="#17a275" stroke-width="2.4" stroke-linecap="round"/>
<text transform="translate(278.9,26.3) scale(0.99,1)" font-family="Liberation Sans, sans-serif" font-size="19">SnO<tspan font-size="14" dy="8">2</tspan><tspan dy="-8">/C-2-900-1</tspan></text>
<line x1="239.5" y1="49.4" x2="274.5" y2="49.4" stroke="#1f30f0" stroke-width="1.6" stroke-linecap="round"/>
<text transform="translate(278.9,53.1) scale(0.99,1)" font-family="Liberation Sans, sans-serif" font-size="19">SnO<tspan font-size="14" dy="8">2</tspan><tspan dy="-8">/C-2-800-1</tspan></text>
<line x1="239.5" y1="77" x2="274.5" y2="77" stroke="#ff0d0d" stroke-width="2.2" stroke-linecap="round"/>
<text transform="translate(278.9,80.7) scale(0.99,1)" font-family="Liberation Sans, sans-serif" font-size="19">SnO<tspan font-size="14" dy="8">2</tspan><tspan dy="-8">/C-2-700-1</tspan></text>
<line x1="239.5" y1="104.6" x2="274.5" y2="104.6" stroke="#000" stroke-width="2.4" stroke-linecap="round"/>
<text transform="translate(278.9,108.3) scale(0.99,1)" font-family="Liberation Sans, sans-serif" font-size="19">SnO<tspan font-size="14" dy="8">2</tspan><tspan dy="-8">/C-2-600-1</tspan></text>
<rect x="545.1" y="3.55" width="416.7" height="303.85" fill="none" stroke="#000" stroke-width="2.2"/>
<line x1="540" y1="3.55" x2="545" y2="3.55" stroke="#000" stroke-width="2.4"/>
<line x1="545.1" y1="307" x2="545.1" y2="311" stroke="#000" stroke-width="2.2"/>
<line x1="538" y1="307.3" x2="545" y2="307.3" stroke="#000" stroke-width="2.4"/>
<text x="533.5" y="314.0" font-family="Liberation Sans, sans-serif" font-size="19" text-anchor="end">0</text>
<line x1="538" y1="252.1" x2="545" y2="252.1" stroke="#000" stroke-width="2.4"/>
<text x="533.5" y="258.8" font-family="Liberation Sans, sans-serif" font-size="19" text-anchor="end">20</text>
<line x1="538" y1="196.8" x2="545" y2="196.8" stroke="#000" stroke-width="2.4"/>
<text x="533.5" y="203.5" font-family="Liberation Sans, sans-serif" font-size="19" text-anchor="end">40</text>
<line x1="538" y1="141.6" x2="545" y2="141.6" stroke="#000" stroke-width="2.4"/>
<text x="533.5" y="148.2" font-family="Liberation Sans, sans-serif" font-size="19" text-anchor="end">60</text>
<line x1="538" y1="86.3" x2="545" y2="86.3" stroke="#000" stroke-width="2.4"/>
<text x="533.5" y="93.0" font-family="Liberation Sans, sans-serif" font-size="19" text-anchor="end">80</text>
<line x1="538" y1="31.1" x2="545" y2="31.1" stroke="#000" stroke-width="2.4"/>
<text x="533.5" y="37.8" font-family="Liberation Sans, sans-serif" font-size="19" text-anchor="end">100</text>
<line x1="541" y1="279.7" x2="545" y2="279.7" stroke="#000" stroke-width="2.2"/>
<line x1="541" y1="224.4" x2="545" y2="224.4" stroke="#000" stroke-width="2.2"/>
<line x1="541" y1="169.2" x2="545" y2="169.2" stroke="#000" stroke-width="2.2"/>
<line x1="541" y1="113.9" x2="545" y2="113.9" stroke="#000" stroke-width="2.2"/>
<line x1="541" y1="58.7" x2="545" y2="58.7" stroke="#000" stroke-width="2.2"/>
<line x1="605.0" y1="307" x2="605.0" y2="313.7" stroke="#000" stroke-width="2.6"/>
<text x="605.0" y="331" font-family="Liberation Sans, sans-serif" font-size="19" text-anchor="middle">200</text>
<line x1="723.6" y1="307" x2="723.6" y2="313.7" stroke="#000" stroke-width="2.6"/>
<text x="723.6" y="331" font-family="Liberation Sans, sans-serif" font-size="19" text-anchor="middle">400</text>
<line x1="842.2" y1="307" x2="842.2" y2="313.7" stroke="#000" stroke-width="2.6"/>
<text x="842.2" y="331" font-family="Liberation Sans, sans-serif" font-size="19" text-anchor="middle">600</text>
<line x1="960.8" y1="307" x2="960.8" y2="313.7" stroke="#000" stroke-width="2.6"/>
<text x="960.8" y="331" font-family="Liberation Sans, sans-serif" font-size="19" text-anchor="middle">800</text>
<line x1="664.3" y1="307" x2="664.3" y2="311.2" stroke="#000" stroke-width="2.2"/>
<line x1="782.9" y1="307" x2="782.9" y2="311.2" stroke="#000" stroke-width="2.2"/>
<line x1="901.5" y1="307" x2="901.5" y2="311.2" stroke="#000" stroke-width="2.2"/>
<text transform="translate(659.5,360.3) scale(1.04,1)" font-family="Liberation Sans, sans-serif" font-size="24">Temperature <tspan font-size="22">(</tspan><tspan font-size="14.5" dx="0.5" dy="-9.5">o</tspan><tspan dy="9.5" font-size="23" dx="0.5">C</tspan><tspan font-size="22" dx="-0.5">)</tspan></text>
<text transform="translate(497.8,241) rotate(-90)" x="0" y="0" font-family="Liberation Sans, sans-serif" font-size="24.4">Mass loss <tspan font-size="22.5">(%)</tspan></text>
<text transform="translate(555,67.3) scale(1.03,1)" font-family="Liberation Sans, sans-serif" font-size="33">(b)</text>
<path d="M545,31.4 C570.8,31.8 670.8,33.0 700,33.5 C729.2,34.0 714.6,33.9 720,34.5 C725.4,35.1 728.8,36.2 732.2,37.2 C735.6,38.2 737.4,38.8 740.3,40.6 C743.2,42.4 746.8,45.2 749.8,48 C752.8,50.8 755.7,54.5 758,57.5 C760.3,60.5 762.0,63.3 763.4,65.7 C764.8,68.1 765.4,69.0 766.5,72 C767.6,75.0 768.6,78.7 769.9,83.6 C771.1,88.5 772.7,95.1 774,101.2 C775.3,107.3 776.6,114.2 777.8,120 C779.0,125.8 780.1,130.7 781,136.3 C781.9,142.0 782.5,149.0 783,153.9 C783.5,158.8 784.0,162.5 784,166 C784.0,169.5 783.2,172.2 783.2,175 C783.2,177.8 783.0,179.9 784,183 C785.0,186.1 786.6,189.6 789,193.3 C791.4,197.1 795.4,201.4 798.3,205.5 C801.2,209.6 804.0,214.0 806.4,217.7 C808.8,221.4 810.1,224.4 812.5,227.8 C814.9,231.2 817.7,235.3 820.7,238 C823.8,240.7 827.6,242.8 830.8,244.1 C834.0,245.4 836.0,245.5 840,245.8 C844.0,246.1 848.3,245.9 855,245.9 C861.7,245.9 863.0,245.9 880,245.9 C897.0,245.9 944.2,245.9 957,245.9" fill="none" stroke="#ff0a14" stroke-width="2.6" stroke-linejoin="round"/>
<path d="M545,31.2 C560.8,31.3 614.2,31.5 640,31.7 C665.8,31.9 686.7,32.1 700,32.2 C713.3,32.3 714.4,32.1 720,32.3 C725.6,32.4 729.1,32.6 733.6,33.1 C738.1,33.6 742.6,34.3 747.1,35.2 C751.6,36.1 756.6,37.2 760.7,38.6 C764.8,40.0 768.6,41.5 771.5,43.3 C774.4,45.1 776.4,47.2 778.3,49.4 C780.2,51.5 781.9,53.9 783,56.2 C784.1,58.5 784.6,60.7 785.1,63 C785.6,65.3 785.4,66.6 785.9,70 C786.4,73.4 787.2,78.4 788.2,83.6 C789.2,88.8 790.5,95.1 791.6,101.2 C792.7,107.3 793.8,113.5 795,120 C796.2,126.5 797.5,134.0 798.6,140.3 C799.7,146.6 800.8,153.1 801.4,158 C802.0,162.9 802.1,166.3 802.3,170 C802.5,173.7 802.4,176.5 802.4,180 C802.4,183.5 801.5,187.8 802.2,191 C802.9,194.2 804.0,195.6 806.4,199.4 C808.8,203.2 813.2,208.9 816.6,213.6 C820.0,218.3 823.5,223.4 826.7,227.8 C829.9,232.2 833.3,236.8 836,240 C838.7,243.2 840.8,245.2 843,247 C845.2,248.8 846.8,249.9 849,250.6 C851.2,251.3 850.8,251.2 856,251.3 C861.2,251.4 863.2,251.3 880,251.3 C896.8,251.3 944.2,251.3 957,251.3" fill="none" stroke="#000" stroke-width="2.6" stroke-linejoin="round"/>
<path d="M545,31.4 C554.2,31.5 583.3,31.9 600,32.2 C616.7,32.5 628.3,32.7 645,33 C661.7,33.3 687.5,33.8 700,34.2 C712.5,34.6 714.4,34.7 720,35.2 C725.6,35.7 729.1,36.3 733.6,37.2 C738.1,38.1 742.6,38.9 747.1,40.6 C751.6,42.3 756.2,45.0 760.7,47.4 C765.2,49.8 770.4,52.3 774.2,54.8 C778.0,57.3 780.8,59.9 783.7,62.5 C786.6,65.1 788.8,67.5 791.5,70.5 C794.2,73.5 797.7,77.5 799.7,80.8 C801.8,84.1 802.8,86.4 803.8,90.3 C804.8,94.2 805.2,99.0 805.8,103.9 C806.4,108.9 806.6,114.6 807.3,120 C808.0,125.4 809.3,130.7 810.2,136.3 C811.1,142.0 812.2,148.3 812.9,153.9 C813.6,159.5 813.8,165.9 814.2,170 C814.6,174.1 814.9,173.8 815.4,178.6 C815.9,183.4 816.9,192.8 817.5,198.9 C818.1,205.0 818.5,210.4 818.8,215 C819.1,219.6 819.2,221.3 819.3,226.3 C819.4,231.3 819.0,240.1 819.4,245 C819.8,249.9 820.4,253.2 821.5,256 C822.6,258.8 824.2,260.6 826,262 C827.8,263.4 828.3,263.9 832.3,264.3 C836.3,264.7 842.0,264.4 850,264.4 C858.0,264.4 862.2,264.4 880,264.4 C897.8,264.4 944.2,264.2 957,264.2" fill="none" stroke="#1538f5" stroke-width="2.5" stroke-linejoin="round"/>
<line x1="834" y1="264.4" x2="892" y2="264.4" stroke="#1538f5" stroke-width="2.9"/>
<line x1="568.5" y1="163.7" x2="604.4" y2="163.7" stroke="#ff0a14" stroke-width="2.4"/>
<text transform="translate(608.8,168.3) scale(0.97,1)" font-family="Liberation Sans, sans-serif" font-size="19">Sn<tspan dx="3">O</tspan><tspan font-size="14" dy="7.5">2</tspan><tspan dy="-7.5">/C-2-700-1</tspan></text>
<line x1="568.5" y1="191.2" x2="604.4" y2="191.2" stroke="#000" stroke-width="1.8"/>
<text transform="translate(608.8,195.8) scale(0.97,1)" font-family="Liberation Sans, sans-serif" font-size="19">Sn<tspan dx="3">O</tspan><tspan font-size="14" dy="7.5">2</tspan><tspan dy="-7.5">/C-2-800-1</tspan></text>
<line x1="568.5" y1="219.3" x2="604.4" y2="219.3" stroke="#1538f5" stroke-width="2.4"/>
<text transform="translate(608.8,223.9) scale(0.97,1)" font-family="Liberation Sans, sans-serif" font-size="19">Sn<tspan dx="3">O</tspan><tspan font-size="14" dy="7.5">2</tspan><tspan dy="-7.5">/C-2-900-1</tspan></text></svg></body></html>
